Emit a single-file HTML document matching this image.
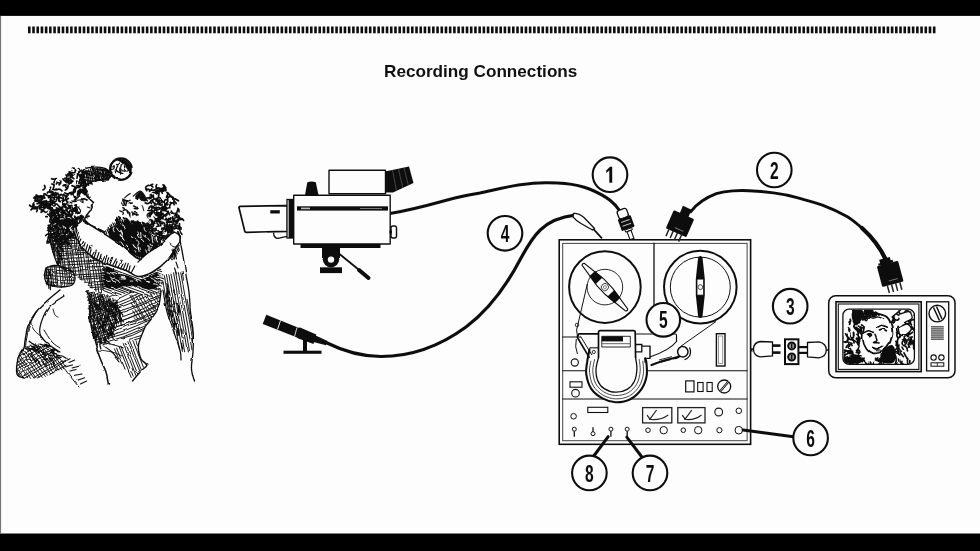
<!DOCTYPE html>
<html><head><meta charset="utf-8"><title>Recording Connections</title>
<style>
html,body{margin:0;padding:0;background:#000;overflow:hidden}
body{width:980px;height:551px;position:relative;font-family:"Liberation Sans",sans-serif}
svg{position:absolute;left:0;top:0;display:block}
.title{position:absolute;left:383.6px;top:61.2px;margin:0;padding:0;font:bold 16.4px/20px "Liberation Sans",sans-serif;color:#111;white-space:nowrap;transform-origin:0 0;transform:scaleX(1.046);filter:blur(0.35px)}
</style></head><body>
<svg width="980" height="551" viewBox="0 0 980 551">
<rect x="0" y="0" width="980" height="551" fill="#000"/>
<rect x="0" y="15.9" width="980" height="517.6" fill="#fdfdfd"/>
<rect x="0" y="15.9" width="1.1" height="517.6" fill="#777"/>
<defs><filter id="soft" x="-2%" y="-2%" width="104%" height="104%"><feGaussianBlur stdDeviation="0.4"/></filter><filter id="soft2" x="-5%" y="-5%" width="110%" height="110%"><feTurbulence type="fractalNoise" baseFrequency="0.09" numOctaves="2" seed="3" result="n"/><feDisplacementMap in="SourceGraphic" in2="n" scale="2.6" xChannelSelector="R" yChannelSelector="G" result="d"/><feGaussianBlur in="d" stdDeviation="0.35"/></filter></defs>
<g id="art" filter="url(#soft)">
<path d="M28.00 26.6h2.61v6.6h-2.61zM32.21 26.6h2.61v6.6h-2.61zM36.42 26.6h2.61v6.6h-2.61zM40.63 26.6h2.61v6.6h-2.61zM44.84 26.6h2.61v6.6h-2.61zM49.04 26.6h2.61v6.6h-2.61zM53.25 26.6h2.61v6.6h-2.61zM57.46 26.6h2.61v6.6h-2.61zM61.67 26.6h2.61v6.6h-2.61zM65.88 26.6h2.61v6.6h-2.61zM70.09 26.6h2.61v6.6h-2.61zM74.30 26.6h2.61v6.6h-2.61zM78.51 26.6h2.61v6.6h-2.61zM82.71 26.6h2.61v6.6h-2.61zM86.92 26.6h2.61v6.6h-2.61zM91.13 26.6h2.61v6.6h-2.61zM95.34 26.6h2.61v6.6h-2.61zM99.55 26.6h2.61v6.6h-2.61zM103.76 26.6h2.61v6.6h-2.61zM107.97 26.6h2.61v6.6h-2.61zM112.18 26.6h2.61v6.6h-2.61zM116.38 26.6h2.61v6.6h-2.61zM120.59 26.6h2.61v6.6h-2.61zM124.80 26.6h2.61v6.6h-2.61zM129.01 26.6h2.61v6.6h-2.61zM133.22 26.6h2.61v6.6h-2.61zM137.43 26.6h2.61v6.6h-2.61zM141.64 26.6h2.61v6.6h-2.61zM145.85 26.6h2.61v6.6h-2.61zM150.06 26.6h2.61v6.6h-2.61zM154.26 26.6h2.61v6.6h-2.61zM158.47 26.6h2.61v6.6h-2.61zM162.68 26.6h2.61v6.6h-2.61zM166.89 26.6h2.61v6.6h-2.61zM171.10 26.6h2.61v6.6h-2.61zM175.31 26.6h2.61v6.6h-2.61zM179.52 26.6h2.61v6.6h-2.61zM183.73 26.6h2.61v6.6h-2.61zM187.93 26.6h2.61v6.6h-2.61zM192.14 26.6h2.61v6.6h-2.61zM196.35 26.6h2.61v6.6h-2.61zM200.56 26.6h2.61v6.6h-2.61zM204.77 26.6h2.61v6.6h-2.61zM208.98 26.6h2.61v6.6h-2.61zM213.19 26.6h2.61v6.6h-2.61zM217.40 26.6h2.61v6.6h-2.61zM221.60 26.6h2.61v6.6h-2.61zM225.81 26.6h2.61v6.6h-2.61zM230.02 26.6h2.61v6.6h-2.61zM234.23 26.6h2.61v6.6h-2.61zM238.44 26.6h2.61v6.6h-2.61zM242.65 26.6h2.61v6.6h-2.61zM246.86 26.6h2.61v6.6h-2.61zM251.07 26.6h2.61v6.6h-2.61zM255.27 26.6h2.61v6.6h-2.61zM259.48 26.6h2.61v6.6h-2.61zM263.69 26.6h2.61v6.6h-2.61zM267.90 26.6h2.61v6.6h-2.61zM272.11 26.6h2.61v6.6h-2.61zM276.32 26.6h2.61v6.6h-2.61zM280.53 26.6h2.61v6.6h-2.61zM284.74 26.6h2.61v6.6h-2.61zM288.95 26.6h2.61v6.6h-2.61zM293.15 26.6h2.61v6.6h-2.61zM297.36 26.6h2.61v6.6h-2.61zM301.57 26.6h2.61v6.6h-2.61zM305.78 26.6h2.61v6.6h-2.61zM309.99 26.6h2.61v6.6h-2.61zM314.20 26.6h2.61v6.6h-2.61zM318.41 26.6h2.61v6.6h-2.61zM322.62 26.6h2.61v6.6h-2.61zM326.82 26.6h2.61v6.6h-2.61zM331.03 26.6h2.61v6.6h-2.61zM335.24 26.6h2.61v6.6h-2.61zM339.45 26.6h2.61v6.6h-2.61zM343.66 26.6h2.61v6.6h-2.61zM347.87 26.6h2.61v6.6h-2.61zM352.08 26.6h2.61v6.6h-2.61zM356.29 26.6h2.61v6.6h-2.61zM360.49 26.6h2.61v6.6h-2.61zM364.70 26.6h2.61v6.6h-2.61zM368.91 26.6h2.61v6.6h-2.61zM373.12 26.6h2.61v6.6h-2.61zM377.33 26.6h2.61v6.6h-2.61zM381.54 26.6h2.61v6.6h-2.61zM385.75 26.6h2.61v6.6h-2.61zM389.96 26.6h2.61v6.6h-2.61zM394.17 26.6h2.61v6.6h-2.61zM398.37 26.6h2.61v6.6h-2.61zM402.58 26.6h2.61v6.6h-2.61zM406.79 26.6h2.61v6.6h-2.61zM411.00 26.6h2.61v6.6h-2.61zM415.21 26.6h2.61v6.6h-2.61zM419.42 26.6h2.61v6.6h-2.61zM423.63 26.6h2.61v6.6h-2.61zM427.84 26.6h2.61v6.6h-2.61zM432.04 26.6h2.61v6.6h-2.61zM436.25 26.6h2.61v6.6h-2.61zM440.46 26.6h2.61v6.6h-2.61zM444.67 26.6h2.61v6.6h-2.61zM448.88 26.6h2.61v6.6h-2.61zM453.09 26.6h2.61v6.6h-2.61zM457.30 26.6h2.61v6.6h-2.61zM461.51 26.6h2.61v6.6h-2.61zM465.71 26.6h2.61v6.6h-2.61zM469.92 26.6h2.61v6.6h-2.61zM474.13 26.6h2.61v6.6h-2.61zM478.34 26.6h2.61v6.6h-2.61zM482.55 26.6h2.61v6.6h-2.61zM486.76 26.6h2.61v6.6h-2.61zM490.97 26.6h2.61v6.6h-2.61zM495.18 26.6h2.61v6.6h-2.61zM499.38 26.6h2.61v6.6h-2.61zM503.59 26.6h2.61v6.6h-2.61zM507.80 26.6h2.61v6.6h-2.61zM512.01 26.6h2.61v6.6h-2.61zM516.22 26.6h2.61v6.6h-2.61zM520.43 26.6h2.61v6.6h-2.61zM524.64 26.6h2.61v6.6h-2.61zM528.85 26.6h2.61v6.6h-2.61zM533.06 26.6h2.61v6.6h-2.61zM537.26 26.6h2.61v6.6h-2.61zM541.47 26.6h2.61v6.6h-2.61zM545.68 26.6h2.61v6.6h-2.61zM549.89 26.6h2.61v6.6h-2.61zM554.10 26.6h2.61v6.6h-2.61zM558.31 26.6h2.61v6.6h-2.61zM562.52 26.6h2.61v6.6h-2.61zM566.73 26.6h2.61v6.6h-2.61zM570.93 26.6h2.61v6.6h-2.61zM575.14 26.6h2.61v6.6h-2.61zM579.35 26.6h2.61v6.6h-2.61zM583.56 26.6h2.61v6.6h-2.61zM587.77 26.6h2.61v6.6h-2.61zM591.98 26.6h2.61v6.6h-2.61zM596.19 26.6h2.61v6.6h-2.61zM600.40 26.6h2.61v6.6h-2.61zM604.60 26.6h2.61v6.6h-2.61zM608.81 26.6h2.61v6.6h-2.61zM613.02 26.6h2.61v6.6h-2.61zM617.23 26.6h2.61v6.6h-2.61zM621.44 26.6h2.61v6.6h-2.61zM625.65 26.6h2.61v6.6h-2.61zM629.86 26.6h2.61v6.6h-2.61zM634.07 26.6h2.61v6.6h-2.61zM638.28 26.6h2.61v6.6h-2.61zM642.48 26.6h2.61v6.6h-2.61zM646.69 26.6h2.61v6.6h-2.61zM650.90 26.6h2.61v6.6h-2.61zM655.11 26.6h2.61v6.6h-2.61zM659.32 26.6h2.61v6.6h-2.61zM663.53 26.6h2.61v6.6h-2.61zM667.74 26.6h2.61v6.6h-2.61zM671.95 26.6h2.61v6.6h-2.61zM676.15 26.6h2.61v6.6h-2.61zM680.36 26.6h2.61v6.6h-2.61zM684.57 26.6h2.61v6.6h-2.61zM688.78 26.6h2.61v6.6h-2.61zM692.99 26.6h2.61v6.6h-2.61zM697.20 26.6h2.61v6.6h-2.61zM701.41 26.6h2.61v6.6h-2.61zM705.62 26.6h2.61v6.6h-2.61zM709.82 26.6h2.61v6.6h-2.61zM714.03 26.6h2.61v6.6h-2.61zM718.24 26.6h2.61v6.6h-2.61zM722.45 26.6h2.61v6.6h-2.61zM726.66 26.6h2.61v6.6h-2.61zM730.87 26.6h2.61v6.6h-2.61zM735.08 26.6h2.61v6.6h-2.61zM739.29 26.6h2.61v6.6h-2.61zM743.49 26.6h2.61v6.6h-2.61zM747.70 26.6h2.61v6.6h-2.61zM751.91 26.6h2.61v6.6h-2.61zM756.12 26.6h2.61v6.6h-2.61zM760.33 26.6h2.61v6.6h-2.61zM764.54 26.6h2.61v6.6h-2.61zM768.75 26.6h2.61v6.6h-2.61zM772.96 26.6h2.61v6.6h-2.61zM777.17 26.6h2.61v6.6h-2.61zM781.37 26.6h2.61v6.6h-2.61zM785.58 26.6h2.61v6.6h-2.61zM789.79 26.6h2.61v6.6h-2.61zM794.00 26.6h2.61v6.6h-2.61zM798.21 26.6h2.61v6.6h-2.61zM802.42 26.6h2.61v6.6h-2.61zM806.63 26.6h2.61v6.6h-2.61zM810.84 26.6h2.61v6.6h-2.61zM815.04 26.6h2.61v6.6h-2.61zM819.25 26.6h2.61v6.6h-2.61zM823.46 26.6h2.61v6.6h-2.61zM827.67 26.6h2.61v6.6h-2.61zM831.88 26.6h2.61v6.6h-2.61zM836.09 26.6h2.61v6.6h-2.61zM840.30 26.6h2.61v6.6h-2.61zM844.51 26.6h2.61v6.6h-2.61zM848.71 26.6h2.61v6.6h-2.61zM852.92 26.6h2.61v6.6h-2.61zM857.13 26.6h2.61v6.6h-2.61zM861.34 26.6h2.61v6.6h-2.61zM865.55 26.6h2.61v6.6h-2.61zM869.76 26.6h2.61v6.6h-2.61zM873.97 26.6h2.61v6.6h-2.61zM878.18 26.6h2.61v6.6h-2.61zM882.39 26.6h2.61v6.6h-2.61zM886.59 26.6h2.61v6.6h-2.61zM890.80 26.6h2.61v6.6h-2.61zM895.01 26.6h2.61v6.6h-2.61zM899.22 26.6h2.61v6.6h-2.61zM903.43 26.6h2.61v6.6h-2.61zM907.64 26.6h2.61v6.6h-2.61zM911.85 26.6h2.61v6.6h-2.61zM916.06 26.6h2.61v6.6h-2.61zM920.26 26.6h2.61v6.6h-2.61zM924.47 26.6h2.61v6.6h-2.61zM928.68 26.6h2.61v6.6h-2.61zM932.89 26.6h2.61v6.6h-2.61z" fill="#111"/>
<path d="M390 213.5 C420 208.5 440 201.5 457 197.5 C465 195.7 472 194.3 480 193 C494 190 507 186.7 520 184.8 C529 183.6 537 182.9 545 182.8 C552 182.7 559 182.9 565 183.5 C575 184.5 583 186.5 590 189.2 C598 192.5 604.5 196 610 200.2 C614 203.3 617 206.7 619.5 210.5" fill="none" stroke="#111" stroke-width="3.1" stroke-linecap="round"/>
<path d="M385 171.5 L409 166.5 L413.5 183 L393 192.5 L385 192.5z" fill="#111"/>
<path d="M392.5 170.3 L396.5 190.5 M398.5 169 L402.8 187.8 M404 168 L408.3 185.2" stroke="#555" stroke-width="0.7" fill="none"/>
<rect x="329" y="170.3" width="56.5" height="23.4" stroke="#111" stroke-width="1.4" fill="#fdfdfd" stroke-linejoin="round"/>
<path d="M305 195 L307.3 182.3 Q311.5 180.5 315.8 182.3 L318.5 195z" fill="#111"/>
<path d="M240.2 206.3 L287.5 205.7 L287.5 231.3 L246.3 232.3 Q245 232.3 244.7 231 L239 207.8 Q238.8 206.3 240.2 206.3z" stroke="#111" stroke-width="1.7" fill="#fdfdfd" stroke-linejoin="round"/>
<rect x="270.3" y="210.2" width="9.5" height="3.3" fill="#111"/>
<path d="M273.5 232.6 Q274 238.5 278 238.3 L287 236.3" fill="none" stroke="#111" stroke-width="1.3"/>
<rect x="287" y="199.5" width="6.8" height="38.5" fill="#fdfdfd" stroke="#111" stroke-width="1.3"/>
<rect x="288.6" y="199.5" width="5.2" height="38.5" fill="#111"/>
<rect x="293.7" y="195.2" width="96.5" height="48.8" stroke="#111" stroke-width="1.4" fill="#fdfdfd" stroke-linejoin="round"/>
<rect x="297" y="206.3" width="91" height="4.3" fill="#111"/>
<rect x="301" y="207.6" width="9" height="1.6" fill="#bbb"/>
<rect x="360" y="208" width="22" height="1" fill="#777"/>
<rect x="391" y="226" width="5.5" height="12" rx="2" stroke="#111" stroke-width="1.4" fill="#fdfdfd" stroke-linejoin="round"/>
<rect x="389.5" y="230.5" width="2.5" height="3" fill="#111"/>
<rect x="300.5" y="244" width="80" height="4" fill="#111"/>
<path d="M322 248 L340 248 L340 258 L322 258z" fill="#111"/>
<circle cx="331" cy="259.3" r="8.2" fill="#111"/>
<circle cx="331" cy="259.6" r="3.2" fill="#fdfdfd"/>
<rect x="320" y="267.3" width="22" height="5.8" fill="#111"/>
<path d="M337 252 L361 271.5" stroke="#111" stroke-width="1.8" fill="none"/>
<path d="M359 270 L368.5 278" stroke="#111" stroke-width="4" fill="none" stroke-linecap="round"/>
<path d="M326 342.5 C345 352 362 356.5 381 356.5 C410 356.5 440 346 466 327 C490 309 508 283 521 258 C533 236 543 219 575 215.2" fill="none" stroke="#111" stroke-width="3.2" stroke-linecap="round"/>
<path d="M266.3 314.8 L301 328.8 L327.5 341 L326 345.2 L299 338.3 L262.7 323.9z" fill="#111"/>
<path d="M299.5 327.3 L316.3 334.5 L313.5 344 L297 338z" fill="#111"/>
<path d="M280.5 320.5 L277.5 329.5" stroke="#fdfdfd" stroke-width="0.9"/>
<path d="M297 327.5 L294.5 336.5" stroke="#fdfdfd" stroke-width="0.8"/>
<rect x="303" y="338" width="4" height="13.5" fill="#111"/>
<rect x="283.5" y="350.7" width="38" height="3.1" fill="#111"/>
<path d="M573.5 213.3 Q579 213 584 217.5 L594.5 228.5 L592.5 230 L581 223.5 Q575.5 220 573 216.8z" fill="#fdfdfd" stroke="#111" stroke-width="1.3" stroke-linejoin="round"/>
<path d="M593.5 229.2 L602 238.3" stroke="#111" stroke-width="1.7"/>
<circle cx="610" cy="174.7" r="17.3" fill="#fdfdfd" stroke="#111" stroke-width="2.1"/>
<path d="M606.2 170.39999999999998 L610 166.7 L612.2 166.7 L612.2 182.7 L609.3 182.7 L609.3 170.5 L606.2 173.1z" fill="#111"/>
<circle cx="505" cy="233.3" r="17.3" fill="#fdfdfd" stroke="#111" stroke-width="2.1"/>
<text x="505" y="242.0" text-anchor="middle" font-family="Liberation Sans, sans-serif" font-weight="bold" font-size="24.3" fill="#111" transform="translate(505 0) scale(0.64 1) translate(-505 0)">4</text>
<g transform="translate(626.5 224) rotate(-20)">
<rect x="-5" y="-15.5" width="10" height="9" rx="2.5" fill="#fdfdfd" stroke="#111" stroke-width="1.3"/>
<rect x="-6.8" y="-7.2" width="13.6" height="12.4" rx="1" fill="#111"/>
<rect x="-4.5" y="-3.8" width="9" height="1.1" fill="#bbb"/>
<rect x="-4.5" y="0.3" width="9" height="1.1" fill="#bbb"/>
<rect x="-3.6" y="5.2" width="7.2" height="2.2" fill="#fdfdfd" stroke="#111" stroke-width="0.9"/>
<rect x="-2.1" y="7.4" width="4.2" height="8.6" fill="#fdfdfd" stroke="#111" stroke-width="1.1"/>
</g>
<rect x="559.2" y="239.8" width="191.39999999999998" height="204.5" fill="#fdfdfd" stroke="#111" stroke-width="1.6"/>
<rect x="562.7" y="243.4" width="184.39999999999998" height="197.3" stroke="#444" fill="none" stroke-width="1"/>
<path d="M654 242.8V318" stroke="#111" fill="none" stroke-width="1.3"/>
<path d="M562.2 337H588 M562.2 370.7H747.6 M562.2 399H747.6" stroke="#111" fill="none" stroke-width="1.1"/>
<circle cx="604.9" cy="287.1" r="35.8" fill="#fdfdfd" stroke="#111" stroke-width="2"/>
<circle cx="604.9" cy="287.1" r="17.8" stroke="#111" fill="none" stroke-width="0.9" stroke="#444"/>
<g transform="rotate(-43.5 604.9 287.1)">
<path d="M603.4 255.60000000000002 Q604.9 254.10000000000002 606.4 255.60000000000002 L609.6999999999999 281.1 L609.6999999999999 293.1 L606.4 318.6 Q604.9 320.1 603.4 318.6 L600.1 293.1 L600.1 281.1z" fill="#fdfdfd" stroke="#111" stroke-width="1.1"/>
<path d="M601.0 268.6 L608.8 268.6 L609.8 278.6 L600.0 278.6z" fill="#111"/>
<path d="M601.0 305.6 L608.8 305.6 L609.8 295.6 L600.0 295.6z" fill="#111"/>
<circle cx="604.9" cy="287.1" r="3.6" fill="#fdfdfd" stroke="#333" stroke-width="0.9"/>
<circle cx="604.9" cy="287.1" r="1.5" fill="none" stroke="#555" stroke-width="0.7"/>
</g>
<circle cx="700.3" cy="287.1" r="36.3" fill="#fdfdfd" stroke="#111" stroke-width="2"/>
<circle cx="700.3" cy="287.1" r="30" stroke="#111" fill="none" stroke-width="1" stroke="#333"/>
<path d="M698.0999999999999 257.6 Q700.3 254.60000000000002 702.5 257.6 L704.8 279.1 L704.8 295.1 L702.5 316.6 Q700.3 319.6 698.0999999999999 316.6 L695.8 295.1 L695.8 279.1z" fill="#111"/>
<rect x="697.0" y="279.1" width="6.6" height="16" fill="#fdfdfd" stroke="#111" stroke-width="0.8"/>
<circle cx="700.3" cy="287.1" r="2.4" fill="#fdfdfd" stroke="#333" stroke-width="0.9"/>
<path d="M587.3 284 L576.6 330 L577.5 337 M576.3 339 Q574.5 347 577.5 354" stroke="#111" fill="none" stroke-width="1"/>
<circle cx="577" cy="325" r="1.8" stroke="#111" fill="none" stroke-width="0.8"/>
<path d="M716 321.5 L680.5 346.5" stroke="#111" fill="none" stroke-width="1"/>
<path d="M635.5 334 H675.5 Q676.5 334 676.5 335.5 V341.5 Q670 350 650 357" stroke="#111" fill="none" stroke-width="1.2"/>
<path d="M589.5 349.4C589.1 351.6 587.6 358.4 587.1 362.5C586.5 366.6 585.6 369.6 586.2 373.9C586.9 378.3 588.4 384.5 591.1 388.6C593.9 392.7 598.5 396.2 602.6 398.4C606.7 400.7 611.0 402.0 615.6 402.2C620.3 402.3 626.0 401.5 630.3 399.2C634.7 397.0 639.1 392.6 641.8 388.6C644.5 384.7 645.9 379.9 646.7 375.5C647.4 371.2 646.6 365.3 646.4 362.5C646.1 359.6 645.3 359.1 645.1 358.4 L635.2 344.5 L635.2 331.4 L598.5 331.4 L598.5 333.9 L578.9 333.9z" fill="#fdfdfd"/>
<path d="M598.5 333.9 L578.9 333.9 L577.3 337.2 L589.5 357.9" fill="none" stroke="#111" stroke-width="1.7" stroke-linejoin="round"/>
<path d="M580.5 336.3 L592.0 355.1" fill="none" stroke="#111" stroke-width="1"/>
<path d="M598.5 347.8 L589.5 347.8" fill="none" stroke="#111" stroke-width="1.1"/>
<path d="M635.2 344.5 L641.8 344.5 L641.8 351.9 L635.2 351.9" fill="#fdfdfd" stroke="#111" stroke-width="1.3"/>
<path d="M641.8 346.1 L650.0 346.1 L650.0 358.4 L645.1 358.4 L645.1 362.8" fill="none" stroke="#111" stroke-width="1.4"/>
<path d="M589.5 349.4C589.1 351.6 587.6 358.4 587.1 362.5C586.5 366.6 585.6 369.6 586.2 373.9C586.9 378.3 588.4 384.5 591.1 388.6C593.9 392.7 598.5 396.2 602.6 398.4C606.7 400.7 611.0 402.0 615.6 402.2C620.3 402.3 626.0 401.5 630.3 399.2C634.7 397.0 639.1 392.6 641.8 388.6C644.5 384.7 645.9 379.9 646.7 375.5C647.4 371.2 646.6 365.3 646.4 362.5C646.1 359.6 645.3 359.1 645.1 358.4" fill="none" stroke="#111" stroke-width="2.1" stroke-linecap="round"/>
<path d="M590.9 360.8C590.6 362.7 589.1 368.1 589.5 372.3C589.9 376.5 591.0 382.1 593.3 385.9C595.6 389.7 599.4 393.0 603.1 395.2C606.8 397.3 611.3 398.7 615.6 398.9C620.0 399.0 625.3 398.1 629.3 396.0C633.2 393.9 637.0 389.9 639.3 386.2C641.7 382.4 642.8 377.6 643.4 373.4C644.0 369.1 642.9 362.9 642.8 360.8" fill="none" stroke="#333" stroke-width="0.9"/>
<path d="M594.7 359.2C594.4 361.1 592.6 366.7 592.8 370.6C592.9 374.6 593.7 379.6 595.5 383.2C597.3 386.7 600.3 389.8 603.7 391.9C607.0 393.9 611.6 395.4 615.6 395.5C619.7 395.7 624.6 394.7 628.2 392.7C631.7 390.7 634.9 387.3 636.9 383.7C638.9 380.1 639.8 375.3 640.2 371.2C640.5 367.1 639.3 361.2 639.2 359.2" fill="none" stroke="#333" stroke-width="0.9"/>
<path d="M598.5 357.6C598.1 359.5 596.2 365.2 596.0 369.0C595.9 372.8 596.3 377.2 597.7 380.4C599.0 383.7 601.2 386.7 604.2 388.6C607.2 390.6 611.8 392.1 615.6 392.2C619.5 392.3 624.0 391.3 627.1 389.4C630.2 387.6 632.8 384.7 634.4 381.3C636.1 377.9 636.7 373.0 636.9 369.0C637.1 365.1 635.8 359.5 635.6 357.6" fill="none" stroke="#111" stroke-width="1.3"/>
<path d="M598.5 357.9 L598.5 332.3 Q598.5 330.6 600.1 330.6 L633.6 330.6 Q635.2 330.6 635.2 332.3 L635.6 357.9" fill="none" stroke="#111" stroke-width="1.7"/>
<path d="M601.8 336.3 L630.3 336.3 L630.3 347.0 L601.8 347.0z" fill="#fdfdfd" stroke="#111" stroke-width="0.9"/>
<path d="M601.8 336.3 L623.0 336.3 L623.0 341.4 L601.8 341.4z" fill="#111"/>
<path d="M601.8 343.7 L630.3 343.7" stroke="#666" stroke-width="1"/>
<circle cx="593.8" cy="352.0" r="1.6" fill="#fdfdfd" stroke="#111" stroke-width="0.9"/>
<path d="M651.5 365 Q662 360.5 672 358.5 Q677 358 679 356.5" fill="none" stroke="#111" stroke-width="2.2" stroke-linecap="round"/>
<path d="M659 360 L672 356.6 M660.5 362.5 L671 359.5" stroke="#111" stroke-width="0.9" fill="none"/>
<circle cx="682.8" cy="351.8" r="5.2" fill="#fdfdfd" stroke="#111" stroke-width="1.5"/>
<path d="M689.5 347.5 Q691.5 352 689.5 356 Q687.5 359 684.5 359.6" fill="none" stroke="#111" stroke-width="1.3"/>
<rect x="716.4" y="333.7" width="8.6" height="32.3" fill="#fdfdfd" stroke="#111" stroke-width="1.4"/>
<rect x="718.6" y="336" width="4.2" height="27.5" fill="none" stroke="#555" stroke-width="0.6"/>
<rect x="685.7" y="380.9" width="8.3" height="11" fill="#fdfdfd" stroke="#111" stroke-width="1.2"/>
<rect x="697.7" y="382.5" width="5.4" height="9" fill="#fdfdfd" stroke="#111" stroke-width="1.1"/>
<rect x="707" y="382.5" width="5.2" height="9" fill="#fdfdfd" stroke="#111" stroke-width="1.1"/>
<circle cx="724.2" cy="386.5" r="6.5" fill="#fdfdfd" stroke="#111" stroke-width="1.3"/>
<path d="M720 391.5 L728.5 381.5" stroke="#111" stroke-width="2.2"/>
<path d="M720 391.5 L728.5 381.5" stroke="#fdfdfd" stroke-width="0.7"/>
<circle cx="574.8" cy="362.5" r="3.6" fill="none" stroke="#111" stroke-width="1.1"/>
<rect x="570" y="381.8" width="12" height="5.4" fill="none" stroke="#111" stroke-width="1.1"/>
<circle cx="575.5" cy="393.2" r="3.8" fill="none" stroke="#111" stroke-width="1.1"/>
<rect x="587.8" y="407.3" width="20" height="5.2" fill="none" stroke="#111" stroke-width="1.1"/>
<circle cx="573.6" cy="416.3" r="2.8" fill="none" stroke="#111" stroke-width="1"/>
<rect x="642.6" y="407.6" width="29.2" height="15.3" fill="none" stroke="#222" stroke-width="1.3"/>
<path d="M649.1 419.3 Q660.2 420.8 668.3000000000001 415" fill="none" stroke="#222" stroke-width="1.1"/>
<path d="M647.1 415.2 L649.9 419.2 L656.6 410" fill="none" stroke="#222" stroke-width="1.2" stroke-linejoin="round"/>
<rect x="677.8" y="407.6" width="27.2" height="15.3" fill="none" stroke="#222" stroke-width="1.3"/>
<path d="M684.3 419.3 Q694.4 420.8 701.5 415" fill="none" stroke="#222" stroke-width="1.1"/>
<path d="M682.3 415.2 L685.0999999999999 419.2 L691.8 410" fill="none" stroke="#222" stroke-width="1.2" stroke-linejoin="round"/>
<circle cx="718.7" cy="412" r="3.9" fill="none" stroke="#111" stroke-width="1.1"/>
<circle cx="738.8" cy="410.8" r="2.8" fill="none" stroke="#111" stroke-width="1"/>
<circle cx="574.3" cy="429.2" r="2" fill="#fdfdfd" stroke="#111" stroke-width="1"/>
<path d="M574.3 431.2V436.7" stroke="#111" stroke-width="1.3"/>
<circle cx="593" cy="433.7" r="2" fill="#fdfdfd" stroke="#111" stroke-width="1"/>
<path d="M593 427.2V431.7" stroke="#111" stroke-width="1.3"/>
<circle cx="610.9" cy="429.2" r="2" fill="#fdfdfd" stroke="#111" stroke-width="1"/>
<path d="M610.9 431.2V436.7" stroke="#111" stroke-width="1.3"/>
<circle cx="627.2" cy="429.2" r="2" fill="#fdfdfd" stroke="#111" stroke-width="1"/>
<path d="M627.2 431.2V436.7" stroke="#111" stroke-width="1.3"/>
<circle cx="648" cy="430.2" r="2.3" fill="none" stroke="#111" stroke-width="1"/>
<circle cx="663.7" cy="430.2" r="3.7" fill="none" stroke="#111" stroke-width="1"/>
<circle cx="683.3" cy="430.2" r="2.3" fill="none" stroke="#111" stroke-width="1"/>
<circle cx="698.2" cy="430.2" r="3.7" fill="none" stroke="#111" stroke-width="1"/>
<circle cx="719.4" cy="430.2" r="2.6" fill="none" stroke="#111" stroke-width="1"/>
<circle cx="738.8" cy="430.2" r="3.8" fill="none" stroke="#111" stroke-width="1"/>
<path d="M743 430 L793.5 436.7" stroke="#111" stroke-width="2.9" stroke-linecap="round"/>
<path d="M608.2 436.6 L593.4 456.5" stroke="#111" stroke-width="3" stroke-linecap="round"/>
<path d="M626.8 437.2 L641.5 456.5" stroke="#111" stroke-width="3" stroke-linecap="round"/>
<path d="M750 350.5 L752.5 349 L752.5 352z" fill="#111"/>
<circle cx="663.3" cy="319.8" r="16.8" fill="#fdfdfd" stroke="#111" stroke-width="2.1"/>
<text x="663.3" y="328.5" text-anchor="middle" font-family="Liberation Sans, sans-serif" font-weight="bold" font-size="24.3" fill="#111" transform="translate(663.3 0) scale(0.64 1) translate(-663.3 0)">5</text>
<circle cx="810.6" cy="438" r="17.3" fill="#fdfdfd" stroke="#111" stroke-width="2.1"/>
<text x="810.6" y="446.7" text-anchor="middle" font-family="Liberation Sans, sans-serif" font-weight="bold" font-size="24.3" fill="#111" transform="translate(810.6 0) scale(0.64 1) translate(-810.6 0)">6</text>
<circle cx="589.4" cy="472.9" r="17.3" fill="#fdfdfd" stroke="#111" stroke-width="2.1"/>
<text x="589.4" y="481.59999999999997" text-anchor="middle" font-family="Liberation Sans, sans-serif" font-weight="bold" font-size="24.3" fill="#111" transform="translate(589.4 0) scale(0.64 1) translate(-589.4 0)">8</text>
<circle cx="650" cy="472.9" r="17.3" fill="#fdfdfd" stroke="#111" stroke-width="2.1"/>
<text x="650" y="481.59999999999997" text-anchor="middle" font-family="Liberation Sans, sans-serif" font-weight="bold" font-size="24.3" fill="#111" transform="translate(650 0) scale(0.64 1) translate(-650 0)">7</text>
<path d="M690.6 211.8 C697 203.5 705 198 716.3 193.7 C722 192 727 191.3 732.7 190.9 C738 190.5 744 190.5 749 190.7 C757 191 765 191.7 773.5 192.9 C782 194 790 195.6 798 197.8 C806 200 814 202.3 822.4 205.1 C831 208.3 839 212 847 216.5 C852 219.5 856 223 860 226.3 C870 235 879 246 885.5 259" fill="none" stroke="#111" stroke-width="2.9" stroke-linecap="round"/>
<path d="M862 228 C872 237 880 247 886 260" fill="none" stroke="#111" stroke-width="4.2" stroke-linecap="round"/>
<g transform="translate(680 223.7) rotate(23.8)">
<rect x="-4.5" y="-17.5" width="9.5" height="8.5" fill="#111"/>
<rect x="-11.2" y="-9.9" width="22.4" height="19.8" rx="1.2" fill="#111"/>
<rect x="-8.6" y="9.5" width="1.5" height="7.5" fill="#222"/>
<rect x="-4.0" y="9.5" width="1.5" height="7.5" fill="#222"/>
<rect x="0.5999999999999996" y="9.5" width="1.5" height="7.5" fill="#222"/>
<rect x="5.199999999999999" y="9.5" width="1.5" height="7.5" fill="#222"/>
<rect x="-3" y="5.2" width="9" height="0.9" fill="#888"/>
</g>
<g transform="translate(890.2 273.9) rotate(-15)">
<rect x="-7" y="-16.5" width="11" height="7" fill="#111"/>
<rect x="-9" y="-13" width="15" height="2.2" fill="#111"/>
<rect x="-11" y="-10.7" width="22" height="21.4" rx="1.2" fill="#111"/>
<rect x="-6.5" y="10.3" width="1.5" height="8" fill="#222"/>
<rect x="-2.2" y="10.3" width="1.5" height="8" fill="#222"/>
<rect x="2.0999999999999996" y="10.3" width="1.5" height="8" fill="#222"/>
<rect x="6.399999999999999" y="10.3" width="1.5" height="8" fill="#222"/>
<rect x="-3" y="6" width="9" height="0.9" fill="#888"/>
</g>
<circle cx="774.3" cy="170" r="17.3" fill="#fdfdfd" stroke="#111" stroke-width="2.1"/>
<text x="774.3" y="178.7" text-anchor="middle" font-family="Liberation Sans, sans-serif" font-weight="bold" font-size="24.3" fill="#111" transform="translate(774.3 0) scale(0.64 1) translate(-774.3 0)">2</text>
<circle cx="790.2" cy="306.2" r="17.3" fill="#fdfdfd" stroke="#111" stroke-width="2.1"/>
<text x="790.2" y="314.9" text-anchor="middle" font-family="Liberation Sans, sans-serif" font-weight="bold" font-size="24.3" fill="#111" transform="translate(790.2 0) scale(0.64 1) translate(-790.2 0)">3</text>
<path d="M772.5 342 L760 341.5 Q753.5 343 753.5 349 Q753.5 355.5 760 356.8 L772.5 356z" fill="#fdfdfd" stroke="#111" stroke-width="1.3"/>
<path d="M750.5 349 L753.5 349" stroke="#111" stroke-width="1.5"/>
<rect x="772.5" y="344.3" width="8" height="2.6" fill="#111"/><rect x="772.5" y="351.3" width="8" height="2.6" fill="#111"/>
<rect x="785" y="339.3" width="13.4" height="24.8" fill="#fdfdfd" stroke="#111" stroke-width="2"/>
<circle cx="791.7" cy="345.9" r="3.5" fill="#999" stroke="#111" stroke-width="2"/>
<circle cx="791.7" cy="357" r="3.5" fill="#999" stroke="#111" stroke-width="2"/>
<path d="M791.7 343.5v4.6M791.7 354.7v4.6" stroke="#111" stroke-width="1.4"/>
<rect x="799" y="346" width="8" height="2.2" fill="#111"/><rect x="799" y="351.8" width="8" height="2.2" fill="#111"/>
<path d="M807.5 342.5 L819 341.8 Q826.3 343.5 826.3 349.8 Q826.3 356.5 819 357.8 L807.5 357z" fill="#fdfdfd" stroke="#111" stroke-width="1.3"/>
<path d="M826.3 350 L829 350" stroke="#111" stroke-width="1.5"/>
<rect x="828.7" y="295.7" width="126.3" height="82.1" rx="7" fill="#fdfdfd" stroke="#111" stroke-width="1.5"/>
<rect x="836" y="301.8" width="85.2" height="69.8" fill="#fdfdfd" stroke="#111" stroke-width="1.6"/>
<rect x="838.3" y="304" width="80.6" height="65.4" fill="none" stroke="#111" stroke-width="1.1"/>
<rect x="842.9" y="309.2" width="71.5" height="55.1" rx="6" fill="#fdfdfd" stroke="#111" stroke-width="1.3"/>
<rect x="926.6" y="301.8" width="22.1" height="69.1" fill="#fdfdfd" stroke="#111" stroke-width="1.3"/>
<circle cx="937.3" cy="313.6" r="8.3" fill="#fdfdfd" stroke="#111" stroke-width="1.4"/>
<path d="M933.5 307.5 L939.5 320.5 M936.5 306.5 L942 319" stroke="#111" stroke-width="1.5"/>
<rect x="931" y="326.30" width="12.8" height="1.1" fill="#222"/>
<rect x="931" y="328.35" width="12.8" height="1.1" fill="#222"/>
<rect x="931" y="330.40" width="12.8" height="1.1" fill="#222"/>
<rect x="931" y="332.45" width="12.8" height="1.1" fill="#222"/>
<rect x="931" y="334.50" width="12.8" height="1.1" fill="#222"/>
<rect x="931" y="336.55" width="12.8" height="1.1" fill="#222"/>
<rect x="931" y="338.60" width="12.8" height="1.1" fill="#222"/>
<circle cx="933.6" cy="357.6" r="2.7" fill="none" stroke="#111" stroke-width="1.1"/>
<circle cx="941.4" cy="357.6" r="2.7" fill="none" stroke="#111" stroke-width="1.1"/>
<rect x="931" y="362.8" width="12.8" height="3.4" fill="none" stroke="#111" stroke-width="1"/>
<path d="M937.3 362.8v3.4" stroke="#111" stroke-width="0.8"/>
<g filter="url(#soft2)">
<circle cx="120.9" cy="169.2" r="10.8" fill="#fdfdfd" stroke="#0b0b0b" stroke-width="2.2"/>
<path d="M115.9 159.89999999999998 A10.8 10.8 0 0 1 130.9 171.2 Q128.9 171.2 126.9 167.2 Q123.9 162.7 115.9 159.89999999999998z" fill="#0b0b0b"/>
<path d="M111.10000000000001 172.2 A10.8 10.8 0 0 0 125.9 178.6 A14.040000000000001 14.040000000000001 0 0 1 111.10000000000001 172.2z" fill="#0b0b0b"/>
<path d="M120.1 169.6q0.2 2.3 0.5 4.5M122.3 164.0q-2.0 0.9 -1.3 3.0M114.4 165.8q-1.1 0.0 -1.6 1.1M128.3 171.0q2.9 -1.6 3.1 1.7M121.4 162.1q1.9 -0.4 1.6 1.5M120.3 167.8q-1.1 2.1 -0.3 4.3M120.9 171.1q-0.9 2.7 2.0 2.3M124.2 165.9q2.0 -0.1 1.4 1.8M125.2 167.2q-2.2 3.1 1.5 4.0M119.3 162.3q-0.5 2.2 -2.8 2.3M114.3 166.2q0.3 3.7 -3.4 3.2M115.7 169.6q0.6 1.8 2.5 1.7M115.0 170.9q1.1 0.7 0.5 1.9" fill="none" stroke="#0b0b0b" stroke-width="1.2" stroke-linecap="round"/>
<path d="M117.9 165.7C117.7 166.2 116.5 167.7 116.4 168.7C116.3 169.7 116.8 171.0 117.4 171.7C118.0 172.4 119.5 172.5 119.9 172.7" fill="none" stroke="#0b0b0b" stroke-width="1.2" stroke-linecap="round" stroke-linejoin="round"/>
<path d="M119.9 168.2C120.3 168.6 121.6 170.2 122.4 170.7C123.2 171.2 124.5 171.1 124.9 171.2" fill="none" stroke="#0b0b0b" stroke-width="1.2" stroke-linecap="round" stroke-linejoin="round"/>
<path d="M108.4 171.0Q109.1 174.4 110.0 177.7M106.3 170.1Q107.1 174.0 108.1 177.9M104.6 169.2Q105.6 173.9 106.7 178.7M102.8 168.9Q104.0 174.5 105.0 180.3M101.5 169.0Q102.7 174.6 103.8 180.2M99.4 168.7Q100.7 174.5 102.2 180.4M97.6 167.9Q98.9 174.1 100.2 180.4M96.7 168.5Q97.9 174.1 98.9 179.8M95.0 168.8Q95.3 170.3 95.8 171.8M96.0 173.7Q96.7 176.9 97.3 180.1M93.6 168.8Q94.9 175.1 96.2 181.3M92.2 167.9Q93.7 174.6 95.4 181.4M90.5 169.0Q91.8 175.1 93.0 181.2M88.6 169.8Q89.9 176.0 91.3 182.2M86.9 170.6Q88.3 176.9 89.6 183.2M85.6 170.8Q87.0 177.6 88.2 184.5M83.5 171.4Q85.1 178.8 86.5 186.2M82.2 171.5Q83.9 179.3 85.4 187.2M81.2 173.8Q81.6 175.7 82.2 177.6M82.5 180.0Q83.3 184.0 84.1 188.0M79.8 175.4Q80.9 180.7 81.8 186.0" fill="none" stroke="#0b0b0b" stroke-width="1.3" stroke-linecap="round"/>
<path d="M91.7 168.4Q100.3 169.9 108.9 171.5M85.5 170.9Q98.0 173.1 110.4 175.2M81.4 172.5Q95.6 175.0 109.7 177.7M79.0 176.0Q90.1 177.9 101.2 180.0M79.8 179.2Q82.4 179.6 85.1 179.9M86.1 180.3Q89.1 180.8 92.2 181.1M80.3 182.6Q84.6 183.3 88.9 184.2M81.3 185.4Q83.5 185.8 85.7 186.0" fill="none" stroke="#0b0b0b" stroke-width="1.1" stroke-linecap="round"/>
<path d="M88.8 182.0q1.1 2.1 3.5 2.0M81.6 176.9q1.8 1.5 2.6 3.7M84.1 182.5q1.5 2.6 4.5 2.8M84.4 186.2q1.2 2.7 2.9 5.2M103.7 174.1q2.6 1.5 3.6 4.4M80.0 176.6q1.6 1.4 3.1 2.9M83.0 174.4q2.1 -2.6 5.1 -1.0M108.9 177.7q2.3 -2.6 5.6 -1.6M94.9 173.5q2.0 1.4 4.2 2.6M105.5 179.1q1.4 1.6 3.2 0.6M107.4 171.8q1.2 2.4 2.7 4.7M96.4 171.6q1.8 1.2 3.9 1.4M94.5 175.8q2.4 1.1 4.7 2.2M100.4 168.8q1.5 2.7 4.1 0.9M108.1 173.0q1.8 -0.7 3.8 -0.8M93.2 174.0q0.5 1.9 2.4 1.4M81.6 183.7q1.0 -0.8 2.1 -0.2M100.2 174.2q2.3 -0.5 3.0 1.7M101.7 170.0q2.0 -1.5 4.0 -0.1M95.0 176.5q1.7 0.5 3.4 0.8M82.6 171.7q1.8 1.3 3.8 2.4M105.9 172.3q-0.0 3.5 3.4 3.6M87.8 174.0q3.1 3.2 5.7 -0.4M106.9 170.2q1.7 0.3 2.3 1.9M80.5 184.8q2.5 0.1 2.6 2.6M77.8 171.6q-0.8 3.5 2.7 3.9M81.1 178.0q2.0 1.9 4.7 1.7M83.6 168.9q1.2 -0.3 2.3 -0.8" fill="none" stroke="#0b0b0b" stroke-width="1.5" stroke-linecap="round"/>
<path d="M77.3 173.5C78.4 172.7 81.3 169.9 84.2 168.8C87.1 167.7 91.5 167.2 94.7 167.1C97.9 166.9 101.0 167.2 103.4 167.8C105.8 168.3 108.0 170.1 109.0 170.6" fill="none" stroke="#0b0b0b" stroke-width="1.3" stroke-linecap="round" stroke-linejoin="round"/>
<path d="M84.2 188.7C84.8 187.9 86.0 185.3 87.7 184.0C89.4 182.6 92.1 181.3 94.7 180.7C97.3 180.0 100.9 180.4 103.4 180.0C105.9 179.5 108.5 178.2 109.5 177.9" fill="none" stroke="#0b0b0b" stroke-width="1.4" stroke-linecap="round" stroke-linejoin="round"/>
<path d="M61.7 211.0q1.8 -0.5 2.1 1.3M58.7 226.0q0.1 1.6 0.3 3.1M56.8 213.5q-1.7 -0.0 -1.2 1.6M42.5 202.2q3.4 1.4 1.4 4.5M41.5 206.7q-1.3 -0.8 -1.8 0.6M68.4 198.4q-4.1 2.0 -0.1 4.2M78.5 187.2q-4.0 -0.1 -3.7 3.9M79.1 198.5q-3.2 -0.9 -4.9 2.0M76.3 226.1q1.2 3.2 -2.2 2.6M51.7 203.4q-0.1 1.1 0.9 1.7M68.1 185.2q0.2 3.3 -2.7 4.8M70.1 211.1q-3.0 3.2 1.3 3.7M69.1 221.2q-2.1 4.7 -4.8 0.3M67.6 224.0q2.9 0.6 0.9 2.7M43.3 196.2q-0.5 2.1 1.6 1.6M63.8 206.3q-6.0 1.6 -1.2 5.4M68.9 229.5q-1.4 0.7 -0.7 2.1M41.2 203.6q-0.5 1.3 0.0 2.5M56.3 207.8q2.5 1.2 1.7 3.8M69.9 210.4q0.0 1.9 -1.9 2.3M75.6 197.3q1.5 5.2 -3.7 3.8M56.8 204.0q1.8 2.1 4.0 3.9M59.1 242.4q2.8 3.6 -1.6 4.7M68.1 202.3q1.3 0.4 2.6 0.4M39.2 201.4q2.4 1.9 0.6 4.4M65.6 199.6q-5.0 2.0 -0.5 4.8M68.1 194.9q-1.1 1.0 -1.6 2.5M66.2 215.9q3.3 -0.6 3.9 2.7M82.8 170.4q0.9 0.6 1.4 1.6M68.0 175.3q2.7 -2.7 3.9 0.9M71.1 209.6q1.0 1.9 1.7 4.0M44.1 193.8q-0.1 4.7 -4.1 2.3M68.0 226.3q1.6 1.0 0.6 2.6M78.8 195.7q-2.1 1.6 -4.4 0.1M63.7 224.6q2.0 2.3 1.2 5.3M64.6 204.6q-0.7 3.3 2.7 3.6M70.3 173.7q-1.9 0.4 -2.0 2.3M52.7 223.1q1.0 1.9 3.1 1.2M64.9 237.8q-2.5 1.4 -5.3 1.5M78.4 190.8q-2.1 2.3 1.0 3.0M83.7 186.4q1.5 1.1 1.3 3.0M54.8 197.1q-1.8 1.0 -0.5 2.6M63.2 231.5q0.6 2.8 3.4 2.1M82.9 189.0q-0.2 1.0 -0.1 2.0M64.8 241.5q0.4 4.4 -3.6 2.5M63.6 227.8q0.8 1.3 2.1 0.6M68.6 178.4q1.1 3.2 -2.1 4.2M62.1 226.0q-1.9 3.0 1.7 3.0M70.9 205.3q-2.5 0.5 -2.5 3.0M84.9 198.9q-4.3 0.4 -2.5 4.4M69.0 207.6q-1.4 1.9 -3.7 2.7M56.3 178.6q-2.3 1.2 -4.7 0.1M56.5 189.8q3.1 -1.6 5.5 1.0M76.8 181.2q-0.2 1.1 0.3 2.1M44.5 185.5q1.8 3.0 -1.4 4.4M50.0 209.4q2.6 2.3 0.3 5.0M51.7 209.4q3.2 2.6 0.3 5.5M78.3 196.9q1.7 2.0 -0.2 3.9M59.3 195.9q-2.3 1.3 -3.1 3.9M50.6 187.3q-1.6 2.5 -0.3 5.2M62.9 179.0q2.4 3.1 4.8 0.0M73.4 174.9q-3.2 2.2 0.4 3.7M65.9 233.1q-0.9 1.3 -2.4 1.9M79.8 183.4q2.5 2.2 -0.3 4.0M80.1 191.3q1.8 -0.8 3.0 0.7M59.0 222.2q1.2 2.8 -1.8 2.7M54.8 202.8q-3.3 -0.1 -4.8 2.8M73.0 185.6q4.2 1.5 0.5 4.0M48.8 196.2q2.2 0.8 2.3 3.2M54.6 218.5q0.4 1.9 2.3 1.7M51.0 239.8q-0.3 2.4 -2.6 3.1M79.8 174.5q0.9 1.2 2.3 0.7M72.9 181.2q-1.8 0.3 -3.0 1.7M85.2 200.1q-2.7 0.8 -1.7 3.4M79.5 197.0q3.4 0.7 0.9 3.0M55.1 221.1q-3.3 0.3 -4.4 3.5M51.1 193.6q2.4 -0.3 4.1 1.4M61.4 227.9q2.4 3.5 -1.7 4.7M63.7 194.4q1.0 2.3 3.4 1.6M68.2 182.6q0.6 1.0 1.6 1.5M72.3 192.6q1.5 2.3 2.3 4.9M63.4 210.4q-1.1 3.7 2.7 3.0M66.8 176.8q-1.6 4.4 3.1 4.0M80.0 181.6q2.8 -3.1 3.9 0.9M49.8 218.9q0.0 2.5 1.7 4.4M78.5 168.7q2.0 1.1 0.3 2.6M54.3 211.1q1.1 1.4 -0.2 2.6M64.8 192.9q2.0 1.7 4.3 0.5M66.7 203.4q-1.9 1.1 -1.3 3.2M75.8 225.0q-1.9 -2.5 -3.7 0.1M81.4 198.8q-3.2 1.1 -0.7 3.5M62.4 207.7q-1.3 1.7 -3.4 1.0M66.5 225.0q2.1 2.2 -0.9 2.9M39.2 201.7q3.8 0.7 1.2 3.6M72.2 207.7q1.3 0.8 1.6 2.3M70.5 233.8q-0.3 2.6 -2.9 2.0M75.1 210.9q1.6 3.8 5.1 1.6M39.1 208.6q2.8 -2.8 5.5 0.0M49.3 192.3q-1.4 -0.9 -2.0 0.7M54.9 194.7q2.6 -3.5 4.1 0.6M83.9 191.0q-2.6 -3.2 -3.7 0.8M59.3 183.2q-2.0 -2.0 -2.9 0.7M52.4 203.6q-2.1 -1.9 -2.4 0.9M73.9 191.4q-3.3 -1.0 -4.9 2.1M49.7 221.9q1.9 -0.5 2.2 1.4M70.4 228.0q-3.0 0.2 -1.6 2.9M66.1 185.0q-1.7 -0.6 -3.0 0.7M48.0 216.5q-1.1 0.3 -2.2 0.1M62.5 208.1q0.5 1.3 -0.6 2.0M75.7 186.3q1.6 1.7 -0.4 2.9M33.9 202.8q-3.0 3.7 1.7 4.4M60.9 181.2q0.1 2.3 -1.8 3.6M70.0 227.4q-2.7 1.9 -0.1 3.9M71.5 207.3q0.8 4.1 4.7 2.9M45.6 201.2q-3.6 -0.7 -3.8 3.0M45.6 204.9q-0.3 1.3 -0.7 2.7M73.3 211.3q4.1 -1.7 4.4 2.8M33.0 205.4q2.0 1.4 0.6 3.5M78.1 173.0q-1.0 2.5 -1.1 5.2M77.7 185.7q2.6 -0.2 1.4 2.0M50.1 215.0q0.8 1.9 2.6 2.9M35.5 198.9q-0.7 3.4 2.6 2.1M34.4 204.9q-2.2 3.5 -4.8 0.2M58.3 224.5q-0.4 1.9 1.5 1.4M40.2 197.5q2.9 0.9 0.7 2.9M76.1 223.7q0.8 1.2 1.9 2.0M45.9 202.8q2.7 1.7 2.3 5.0M34.3 198.3q2.4 -0.9 4.3 0.8M66.1 235.4q-1.8 2.6 1.2 3.5M54.0 227.3q2.2 0.4 1.3 2.4M63.7 180.0q1.2 0.7 2.1 1.7M49.8 201.7q-5.0 0.2 -3.0 4.8M43.8 196.8q-0.1 1.2 -1.2 1.8M54.7 238.2q2.5 0.9 3.1 3.5M52.8 226.1q-0.9 4.9 -4.5 1.3M50.6 196.9q-0.8 1.1 -2.1 0.8M76.5 207.2q1.4 0.6 0.7 2.0M50.0 199.9q1.1 2.3 3.6 1.6M70.5 178.7q-0.0 1.8 1.7 2.1M55.4 197.0q3.4 0.1 3.9 3.4M51.9 184.0q1.0 0.6 2.0 0.2M64.7 229.4q0.1 3.4 3.3 4.5M71.8 218.5q-1.4 3.8 -5.1 2.2M68.5 174.3q3.5 0.6 1.2 3.3M54.1 192.6q3.2 -0.2 2.4 2.9M55.2 203.8q0.5 1.8 -1.3 2.2M56.4 179.0q-1.6 1.4 -2.4 3.3M72.5 169.2q3.4 0.3 1.4 3.1M60.6 212.3q2.5 0.6 1.9 3.1M83.5 210.8q0.8 2.2 -1.5 2.5M59.1 214.6q0.4 2.9 2.3 5.0M68.2 215.0q1.9 1.3 0.9 3.3M54.1 237.1q0.9 0.4 1.9 0.8M49.8 195.0q4.1 -1.8 5.0 2.5M63.4 197.6q-0.8 1.4 0.1 2.8M63.7 215.3q-3.7 -2.2 -3.5 2.0M51.3 194.0q-0.4 3.5 2.9 4.4M72.2 220.0q-0.4 4.7 -4.7 2.9M67.9 205.0q2.4 1.2 1.6 3.7M75.3 208.3q1.7 0.3 2.0 2.0M42.2 206.8q1.6 -1.8 2.3 0.5M38.5 202.0q3.4 2.2 0.3 4.8M61.3 228.5q0.2 2.4 -2.1 2.6M73.4 192.5q-2.6 -0.5 -2.3 2.2M79.9 210.9q-1.7 0.9 -2.1 2.8M39.2 196.3q3.5 -0.6 3.3 2.9M56.2 215.8q-2.4 -2.9 -3.3 0.7M63.3 204.4q-0.7 2.5 1.9 2.7M80.5 189.2q-2.3 0.9 -1.2 3.2M72.1 209.3q3.6 -1.8 4.4 2.2M46.5 204.8q2.5 -0.2 1.2 2.0M64.7 178.4q3.2 0.1 2.8 3.2M59.9 195.5q1.8 -2.3 2.8 0.5M83.6 191.1q1.0 0.5 1.8 1.2M82.1 204.5q-1.0 1.6 -2.9 2.0M70.0 215.2q-1.9 -1.8 -2.9 0.6M36.3 194.9q1.2 2.0 2.7 3.9M62.5 229.5q-0.9 2.5 -3.3 3.6M55.2 221.5q-0.6 3.0 -2.7 0.8M65.3 184.8q-0.3 2.0 1.3 3.1M78.9 195.4q2.7 1.1 1.9 3.9M84.3 192.1q-0.4 1.5 1.1 2.0M63.6 219.6q1.8 -1.3 2.4 0.8M52.2 200.4q0.4 1.0 -0.0 1.9M50.6 208.6q-0.3 5.0 4.4 3.3M50.5 225.2q-1.1 0.4 -2.3 0.1M55.6 221.5q0.2 1.6 1.7 1.9M86.8 192.1q-1.7 2.3 1.1 2.3M53.8 216.8q-2.4 0.5 -1.0 2.5M81.5 215.6q2.5 2.5 -0.8 3.7M80.4 220.3q-0.4 1.9 -1.8 3.1M54.2 185.0q-0.6 2.0 -0.9 4.1M57.8 212.9q-1.4 3.3 -4.1 0.9M59.1 243.5q-0.5 3.2 2.6 3.9M82.1 177.1q3.1 2.7 0.2 5.7M80.6 217.2q-4.0 -1.4 -4.7 2.8M61.6 243.6q-1.3 -0.4 -2.0 0.9M58.2 208.5q3.4 -0.4 4.2 3.0M69.2 173.1q-1.5 1.3 -3.1 2.5M63.7 236.8q2.8 -0.0 4.4 2.3M52.0 233.7q3.5 -2.1 4.7 1.8M54.4 232.5q-0.9 4.1 -4.0 1.3M68.4 234.6q1.0 2.6 3.8 2.7M51.6 191.6q0.7 2.2 2.8 3.3M72.2 181.3q-0.6 1.1 -1.4 2.0M86.4 214.2q-0.5 3.6 2.7 1.9M72.0 223.8q1.4 1.0 1.8 2.7M56.5 230.3q0.2 1.7 0.5 3.4M86.4 194.0q1.2 2.1 3.4 3.1M48.4 234.3q-1.8 -0.3 -2.7 1.3M58.3 239.0q-1.7 0.7 -2.3 2.4M56.2 189.0q-1.6 1.7 -3.5 0.5M72.2 218.9q2.4 0.8 0.8 2.7M83.7 186.7q-1.1 2.6 1.7 3.1M81.1 212.7q0.9 3.6 3.8 1.2M37.1 195.3q-1.9 0.5 -2.1 2.5M51.9 236.2q2.6 1.7 5.5 0.4M59.1 195.1q-0.0 2.2 2.0 3.1M67.0 241.8q-2.8 1.2 -5.6 0.1M79.9 217.2q-2.3 4.0 -4.6 0.0M58.7 198.2q-1.0 4.7 3.4 2.8M44.1 195.8q-0.7 1.5 0.8 2.3M69.5 215.2q-0.4 3.7 3.3 3.4M74.2 226.9q2.4 0.9 0.2 2.3M52.3 208.5q1.1 2.8 3.7 1.3M49.4 206.3q1.5 1.5 -0.5 2.3M37.1 206.7q-0.2 2.1 -2.3 1.9M44.6 202.0q-2.5 2.4 0.5 4.0M62.3 198.6q-3.5 -2.7 -3.8 1.8M74.4 222.0q2.2 1.5 -0.2 2.5M81.0 170.9q2.1 -1.2 3.4 0.8M51.0 204.9q-3.4 -2.9 -4.1 1.5M64.8 205.8q2.9 1.8 1.7 5.0M74.7 187.2q0.5 1.6 0.7 3.2M52.7 200.4q1.4 2.7 3.6 0.6M35.5 207.9q2.7 1.2 1.2 3.8M37.7 195.9q1.7 1.5 0.2 3.1M75.3 204.8q-1.4 1.4 0.6 1.9M66.6 195.7q-1.0 1.3 -1.0 2.9M50.2 205.6q1.0 3.8 -2.8 2.7M56.6 233.3q0.1 2.1 2.1 2.7M80.1 192.6q-2.3 -0.7 -2.6 1.7M69.1 171.8q2.2 1.5 4.7 0.7M63.9 238.5q1.9 3.9 4.3 0.3" fill="none" stroke="#0b0b0b" stroke-width="1.7" stroke-linecap="round"/>
<path d="M44.4 202.7q-0.4 0.8 -1.2 1.3M43.2 210.3q1.8 3.3 4.8 1.2M39.3 205.9q0.6 1.5 0.5 3.0M33.9 197.8q2.8 -2.8 4.2 1.0M45.8 204.3q2.7 -2.0 3.4 1.3M41.2 209.2q0.2 1.2 0.7 2.4M46.4 200.7q0.6 0.8 0.4 1.8M43.1 209.3q-0.3 1.9 -2.0 2.9M44.9 193.8q1.5 1.7 3.8 2.2M35.3 198.3q0.1 1.2 1.1 2.1M40.6 199.1q-1.1 1.8 -3.3 1.8M41.6 200.8q-0.4 3.3 2.7 4.4M35.8 196.7q1.5 2.6 -1.0 4.2M33.0 207.3q-0.6 1.5 -1.9 2.4M42.2 202.3q-2.4 1.2 -5.0 1.4M40.0 196.2q2.6 -0.9 4.2 1.4M43.5 202.5q3.1 0.3 1.8 3.2M47.7 206.2q1.4 3.2 4.4 1.4" fill="none" stroke="#0b0b0b" stroke-width="1.8" stroke-linecap="round"/>
<path d="M54.6 214.8q2.0 2.1 0.5 4.6M73.3 220.8q1.1 3.3 -0.4 6.5M56.4 216.6q0.8 1.0 0.5 2.3M57.5 216.7q1.0 1.2 0.8 2.7M57.2 217.6q0.8 2.6 -1.3 4.3M70.1 227.4q-0.3 2.9 1.2 5.4M56.2 209.5q-0.2 3.7 2.9 5.8M55.2 224.0q-1.9 1.8 -0.3 3.9M66.0 228.2q-0.2 2.6 2.4 3.0M50.3 241.9q0.8 3.3 4.1 3.2M50.0 228.2q-0.2 1.5 -1.3 2.5M66.6 210.3q1.5 1.8 3.1 3.4M60.0 225.7q0.2 1.6 -0.1 3.1M65.2 210.4q-1.7 2.6 0.8 4.4M68.2 212.4q0.2 1.9 1.8 3.1M69.4 232.6q-1.9 2.7 0.5 5.0M49.3 226.5q4.2 -0.2 5.4 3.7M66.5 228.7q2.2 3.3 -1.1 5.5M48.6 236.5q-0.2 3.4 -1.6 6.5M59.2 220.2q0.4 1.2 -0.3 2.3M69.2 226.7q0.2 1.9 -0.0 3.8M55.2 239.7q1.6 0.5 2.2 2.1M64.9 236.1q0.7 1.8 2.3 3.0M56.2 226.6q0.5 1.9 -1.0 3.2M55.1 218.5q-0.8 1.8 -0.3 3.7M49.0 235.4q1.3 1.1 2.1 2.6M60.1 240.8q3.6 2.0 2.8 6.1M59.3 236.4q0.8 1.9 2.2 3.3M75.4 224.9q2.5 1.6 5.0 3.2M61.0 209.9q3.6 0.9 4.6 4.5M82.9 220.0q1.3 3.2 4.6 4.5M83.5 214.5q-1.1 1.4 -0.0 2.9M63.9 221.1q-0.2 1.8 1.6 2.3M48.7 214.2q2.0 0.5 3.1 2.3M53.2 212.0q0.2 2.3 0.9 4.5M54.8 210.3q-1.8 1.6 -0.5 3.6M65.9 213.3q1.1 1.7 0.6 3.7M64.2 229.5q2.7 2.3 1.9 5.8M61.8 209.4q0.5 1.6 2.0 2.2M54.6 236.7q0.2 2.2 0.1 4.5M58.0 209.0q0.6 1.7 0.3 3.4M64.7 230.3q-0.4 2.3 1.7 3.3M69.0 222.7q1.5 2.0 1.5 4.4M82.2 216.0q-3.2 2.5 -1.7 6.2M52.4 226.1q3.7 1.6 3.7 5.6M74.6 216.1q0.1 3.3 3.4 3.5M57.2 211.0q1.0 2.5 2.5 4.7M65.6 241.2q3.0 1.1 2.0 4.1M65.6 217.3q0.3 2.4 0.3 4.8M49.5 225.7q-2.0 2.3 0.2 4.4M57.0 223.7q0.4 1.4 -0.5 2.6M56.0 240.5q0.6 2.2 1.6 4.2M65.1 218.1q1.7 2.7 1.5 5.8M53.7 215.4q-3.4 2.4 -1.2 5.9M52.9 237.3q-0.1 2.4 2.2 2.9M59.5 236.4q-2.9 1.6 -1.7 4.7M72.4 211.5q0.2 3.6 -1.9 6.4M53.3 232.9q-1.9 2.2 -2.5 5.1M50.9 234.1q-1.0 1.0 -0.7 2.4M68.5 242.0q1.3 2.3 1.4 4.9M59.9 208.3q0.5 1.6 -0.5 2.9M73.5 226.3q2.0 0.9 2.1 3.0M71.6 232.6q-0.8 4.2 3.2 5.6M82.1 218.1q-2.7 3.5 0.5 6.5M76.6 219.7q0.4 1.7 0.8 3.4M67.2 224.8q3.0 1.2 3.3 4.5M69.0 216.3q2.5 -0.2 2.9 2.3M60.0 226.8q0.7 3.2 0.3 6.5M62.1 216.1q0.6 2.7 -1.8 4.0M63.1 232.6q-0.3 2.9 1.0 5.6M55.9 227.3q2.8 2.8 1.5 6.6" fill="none" stroke="#0b0b0b" stroke-width="1.7" stroke-linecap="round"/>
<path d="M52.9 219.7C54.9 217.1 61.3 216.2 65.1 216.2C68.8 216.2 73.5 217.9 75.5 219.7C77.5 221.4 77.8 223.7 77.3 226.6C76.7 229.5 74.9 234.8 72.0 237.1C69.1 239.4 63.0 241.4 59.8 240.6C56.6 239.7 54.0 235.4 52.9 231.9C51.7 228.4 50.8 222.3 52.9 219.7z" fill="#0b0b0b"/>
<path d="M56.5 229.6q-1.1 0.6 -1.5 1.8M60.7 234.9q-0.9 1.5 -2.1 2.7M63.4 218.8q-1.6 -0.9 -2.9 0.4M59.4 233.1q1.4 0.4 2.6 1.1M66.8 234.3q-1.1 1.0 -1.2 2.4M67.9 217.3q2.3 -0.8 3.3 1.4M64.4 216.6q0.3 0.8 0.6 1.6M73.6 228.1q-0.4 2.2 1.8 2.7M55.8 223.6q-1.0 0.4 -2.0 0.9M62.9 225.9q0.6 2.3 2.9 3.0M70.1 227.1q0.4 1.2 0.5 2.5M60.6 231.4q0.2 1.5 1.6 2.2M64.0 227.7q0.8 2.0 0.6 4.1M72.0 226.0q-0.7 1.8 -2.4 2.6M68.9 232.5q0.0 1.6 -1.3 2.5M71.7 229.3q0.2 2.4 2.1 3.9M53.3 226.3q1.0 1.7 2.6 2.8M58.3 225.9q0.8 2.8 3.7 2.6M54.3 230.4q-1.5 1.3 -3.5 1.9M67.3 233.6q-1.5 1.1 -2.6 2.7M59.0 233.4q-1.8 1.4 -0.4 3.2M56.2 235.2q-1.7 0.2 -1.6 1.9M59.6 230.0q1.1 1.5 0.0 3.1" fill="none" stroke="#fdfdfd" stroke-width="0.9" stroke-linecap="round"/>
<path d="M78.3 196.9C79.8 194.9 84.6 194.4 86.5 194.7C88.3 195.0 88.3 197.3 89.4 198.6C90.6 200.0 93.3 201.6 93.6 202.8C94.0 204.0 91.7 204.9 91.4 205.8C91.1 206.7 92.4 207.4 91.9 208.5C91.4 209.7 89.5 211.5 88.2 212.7C86.9 214.0 85.5 215.9 84.0 215.9C82.6 215.9 80.7 214.1 79.6 212.6C78.5 211.1 77.7 209.7 77.5 207.0C77.3 204.4 76.8 199.0 78.3 196.9z" fill="#fdfdfd"/>
<path d="M84.3 185.4C84.7 187.0 85.9 192.5 86.7 194.7C87.6 196.9 88.0 197.3 89.2 198.6C90.3 200.0 93.3 201.7 93.6 202.8C94.0 204.0 91.7 204.6 91.4 205.6C91.2 206.5 92.7 207.3 92.2 208.5C91.7 209.7 89.8 210.9 88.5 212.7C87.1 214.5 85.0 218.3 84.3 219.4" fill="none" stroke="#0b0b0b" stroke-width="1.5" stroke-linecap="round" stroke-linejoin="round"/>
<path d="M81.2 199.6C81.6 199.5 83.1 198.6 84.0 198.6C84.9 198.7 86.1 199.9 86.5 200.1" fill="none" stroke="#0b0b0b" stroke-width="1.4" stroke-linecap="round" stroke-linejoin="round"/>
<path d="M80.6 201.9 L83.0 202.3" fill="none" stroke="#0b0b0b" stroke-width="1.1" stroke-linecap="round" stroke-linejoin="round"/>
<path d="M87.3 207.0 L90.2 208.0" fill="none" stroke="#0b0b0b" stroke-width="1.1" stroke-linecap="round" stroke-linejoin="round"/>
<path d="M78.1 207.0C78.5 207.7 80.3 209.7 80.6 210.7C80.8 211.8 79.5 212.8 79.3 213.2" fill="none" stroke="#0b0b0b" stroke-width="1.2" stroke-linecap="round" stroke-linejoin="round"/>
<path d="M81.6 198.3q2.1 1.8 1.1 4.4M81.2 200.1q-1.8 -0.2 -3.6 0.1M83.4 199.0q2.3 -0.3 4.3 1.0" fill="none" stroke="#0b0b0b" stroke-width="1.1" stroke-linecap="round"/>
<path d="M84.3 219.4C85.1 220.2 87.1 222.9 89.2 224.3C91.3 225.8 94.1 226.8 96.6 228.0C99.1 229.3 102.8 231.1 104.0 231.7" fill="none" stroke="#0b0b0b" stroke-width="1.6" stroke-linecap="round" stroke-linejoin="round"/>
<path d="M169.5 225.0q3.1 1.8 2.1 5.2M158.0 215.6q-0.2 1.3 0.8 2.0M150.8 201.6q-2.3 3.1 -5.6 1.2M151.8 189.7q-1.6 -0.1 -2.0 1.5M154.8 212.6q2.2 3.1 5.0 0.4M169.9 225.6q-1.0 2.3 -3.3 1.3M162.0 201.8q-1.9 0.7 -3.3 2.2M153.3 196.2q0.3 4.6 4.2 2.1M157.4 209.6q-3.2 -1.5 -3.4 2.0M169.0 193.0q0.4 2.5 -2.2 2.9M176.1 236.3q2.0 0.8 1.3 2.8M174.7 215.9q3.3 -2.9 4.3 1.3M166.4 235.6q1.8 -1.6 2.2 0.7M169.7 193.3q-1.8 0.8 -1.6 2.8M156.8 211.3q0.5 1.8 -0.6 3.3M158.1 197.8q3.3 -0.8 2.3 2.4M156.3 219.0q0.8 2.4 3.0 1.1M161.8 214.0q-2.1 -0.9 -3.2 1.2M167.1 223.1q0.8 2.5 -0.0 5.0M159.1 213.5q-0.4 2.0 -0.4 4.1M172.9 237.5q1.6 -1.0 3.0 0.2M167.1 200.0q-2.0 -1.0 -2.7 1.2M169.2 225.1q1.3 2.4 0.7 5.2M164.7 236.8q-4.0 -2.8 -6.1 1.6M179.2 216.0q-1.1 3.3 2.4 3.5M163.5 243.5q-1.2 2.1 -2.4 0.1M150.7 206.5q2.1 1.3 4.5 1.6M178.1 209.3q-1.5 2.3 -1.5 5.1M151.6 211.0q1.0 4.1 -3.1 5.0M161.1 216.0q-1.2 1.5 -0.9 3.4M168.3 195.6q-0.4 1.3 -1.8 1.6M178.7 216.9q0.5 1.6 -1.1 2.3M173.8 227.1q3.4 -3.9 5.2 0.9M152.6 184.3q-2.2 1.6 0.2 2.8M156.7 198.4q1.6 2.7 4.7 3.1M166.9 240.1q0.2 1.2 -0.5 2.2M174.1 198.0q2.2 1.4 4.3 2.8M152.1 197.0q-2.0 -0.3 -2.9 1.6M179.5 223.7q-0.9 2.9 1.7 4.4M162.7 186.0q0.5 2.0 1.5 3.9M157.0 191.6q-1.5 3.2 -4.4 1.2M162.9 213.3q1.9 3.1 -1.1 5.2M152.2 227.1q-0.3 2.4 -2.2 1.0M152.2 211.3q-3.4 1.7 -2.1 5.3M171.9 227.0q-0.2 1.9 -2.0 1.2M151.2 184.7q-0.8 0.9 -2.1 0.8M148.6 185.3q-4.9 1.4 -1.8 5.4M146.9 189.4q2.7 -1.0 2.7 1.9M152.5 221.9q1.1 0.9 2.4 1.4M158.6 191.6q0.8 2.3 -0.1 4.5M162.0 184.9q2.7 0.2 3.8 2.7M165.9 206.6q-1.6 3.3 -4.3 0.8M158.9 226.1q-3.3 -0.2 -2.2 2.9M155.7 228.7q-4.9 -0.2 -3.2 4.4M152.0 206.7q0.6 4.8 -4.2 3.8M179.5 228.1q0.2 3.1 2.4 5.2M165.6 237.3q-3.6 -0.0 -5.5 3.0M159.6 217.2q0.3 2.5 -2.0 1.7M167.4 199.7q1.2 2.3 -1.1 3.3M161.1 235.3q3.2 1.3 4.2 4.6M169.6 194.1q2.0 2.1 4.6 3.3M157.0 199.4q3.1 4.9 -2.6 5.7M170.4 196.8q-3.4 -0.1 -2.7 3.2M177.9 208.4q1.6 1.3 1.1 3.3M171.3 211.0q1.0 3.4 4.4 2.3M166.9 192.4q1.5 0.7 0.6 2.2M170.9 217.7q-2.1 4.2 -4.9 0.5M161.5 233.3q-3.5 2.0 -0.7 4.9M158.5 189.4q2.6 -2.1 4.8 0.4M150.0 219.7q4.7 0.7 2.6 4.9M168.8 227.4q-1.3 2.7 -1.0 5.7M175.5 224.2q-0.5 4.3 3.8 4.9M167.5 211.3q1.0 1.0 0.2 2.1M166.4 213.9q2.6 -2.4 4.2 0.8M166.6 224.5q-1.1 3.8 -5.0 3.8M161.4 213.6q-3.0 3.9 1.8 5.2M162.3 207.0q-2.4 3.5 1.8 3.7M148.4 224.3q1.4 0.3 2.4 1.2M166.4 229.5q1.9 1.0 2.4 3.2M162.3 190.6q-1.7 -0.7 -2.5 0.9M147.8 224.1q-0.3 1.6 0.5 3.0M157.2 191.3q4.0 -3.3 5.1 1.8M168.2 211.4q-0.4 4.3 -4.7 3.6M161.9 201.0q1.4 3.0 4.7 3.6M178.4 220.6q-3.0 -0.3 -2.2 2.6M163.0 191.0q-2.6 -2.5 -4.3 0.7M154.2 216.5q0.7 2.2 3.0 1.7M171.9 203.2q-2.4 0.7 -2.2 3.2M161.6 189.7q0.3 1.9 2.2 1.3M162.8 222.2q2.7 0.8 1.5 3.3M179.3 219.8q-1.2 0.8 -1.6 2.1M166.8 229.9q-3.6 -2.8 -4.3 1.8M159.7 222.4q1.4 1.5 1.0 3.5M168.0 204.2q-2.5 -0.9 -3.2 1.7M169.0 234.5q0.7 2.4 -1.6 3.4M156.5 188.6q-2.2 2.5 -5.3 1.3M158.7 189.6q-2.3 0.4 -1.1 2.4M171.9 196.4q1.5 2.5 2.6 5.2M152.6 200.4q0.0 2.5 2.5 3.0M173.4 202.5q2.2 -1.5 2.7 1.1M173.0 219.6q-0.2 1.1 0.3 2.1M156.7 184.6q-2.1 3.2 1.7 3.5M158.1 239.4q3.1 3.7 -1.3 5.6M164.9 188.4q1.8 0.8 0.7 2.4M179.9 218.1q-3.3 -2.3 -5.8 0.8M167.9 211.6q1.5 4.0 -2.7 4.6M163.9 207.9q-2.5 0.8 -2.6 3.3M165.3 231.1q3.7 -2.6 5.3 1.6M160.8 211.1q-0.3 3.2 2.9 3.4M157.1 234.6q2.7 0.5 5.5 0.0M172.2 218.9q0.5 2.4 1.3 4.7M152.6 210.9q1.1 2.5 -1.7 2.7M150.4 194.6q3.2 3.1 -1.1 4.2M158.7 192.2q-2.5 3.4 -5.6 0.4M171.8 232.9q4.9 -1.4 4.8 3.7M151.3 196.7q-2.7 1.1 -5.6 1.6M154.0 222.4q-1.6 2.1 -3.9 3.3M161.4 211.3q-0.9 2.0 0.5 3.6M170.2 202.6q3.6 -2.3 4.0 2.0M159.0 204.6q1.2 -0.0 2.2 0.6M178.2 234.1q1.0 0.6 1.2 1.9M156.4 190.9q-1.5 2.0 -4.0 2.2M151.7 188.9q-0.1 1.5 -1.6 1.5M170.6 231.2q1.5 0.0 2.0 1.4M172.2 227.9q1.1 1.5 0.5 3.3M161.9 231.4q-2.7 -1.1 -2.6 1.8M166.4 241.6q-0.1 6.1 5.2 3.1M152.6 232.1q1.0 0.9 1.5 2.1M174.6 224.4q-2.0 -1.4 -2.8 0.9M163.2 185.5q1.4 1.0 2.0 2.6M178.2 219.1q3.3 -1.9 5.4 1.2M170.9 203.4q2.0 -2.1 3.0 0.6M159.9 216.1q1.0 2.1 -0.8 3.7M157.2 212.7q3.4 -0.6 2.4 2.8M155.9 200.8q1.3 0.0 2.6 0.2M158.1 209.8q2.4 -2.9 4.3 0.3M172.8 216.8q-0.7 2.7 2.0 3.7" fill="none" stroke="#0b0b0b" stroke-width="1.7" stroke-linecap="round"/>
<path d="M163.6 233.4q-3.2 -1.0 -5.0 1.7M168.9 218.3q-0.7 2.0 -1.0 4.0M173.4 236.4q-1.1 0.5 -1.6 1.6M166.6 238.7q0.5 1.1 0.2 2.2M165.5 203.8q-1.8 2.6 0.2 5.0M157.6 237.6q0.3 1.2 1.5 1.3M175.2 232.7q1.2 1.4 3.0 0.8M176.9 221.3q0.6 1.0 0.1 2.1M161.8 209.7q2.6 -0.4 4.4 1.6M160.8 218.8q-3.1 1.0 -1.1 3.6M155.6 218.2q0.3 2.5 -1.5 4.3M154.6 230.6q3.0 -1.9 5.3 0.7M155.6 233.2q4.5 -0.3 3.8 4.1M170.2 218.8q-1.9 1.6 -3.7 3.3M156.5 221.2q0.3 2.5 2.4 4.0M154.6 207.6q-3.5 -3.5 -5.8 0.9M174.0 236.0q3.0 3.3 -1.1 5.2M170.7 235.4q3.2 -3.4 5.3 0.7M170.6 219.5q-2.8 0.6 -5.6 0.2M168.9 227.6q-0.0 2.6 1.9 4.4M170.4 233.9q1.7 0.9 3.1 2.3M169.1 222.3q1.2 -0.4 2.4 0.0M155.6 207.6q-0.5 1.6 0.8 2.8M176.3 228.1q-1.1 0.1 -1.9 0.8M170.7 225.3q2.9 0.4 1.7 3.0M169.1 238.8q-2.9 1.5 -1.5 4.4M177.7 234.3q5.0 2.4 0.8 5.9M167.0 226.4q0.2 3.0 -1.9 5.1M166.4 236.2q-2.5 0.4 -5.1 0.1M175.8 215.3q0.9 0.6 1.1 1.7M156.6 228.8q1.0 0.7 1.4 2.0M151.9 224.5q-0.9 1.8 -3.0 2.2M164.5 207.6q-0.5 1.6 1.2 1.7M157.1 219.5q1.2 1.7 2.7 3.0M150.1 213.2q-2.1 -0.3 -2.6 1.7M169.7 224.4q0.9 4.7 -3.8 4.0M152.1 231.4q-2.8 -2.3 -5.4 0.2M153.0 223.1q1.8 3.0 -1.5 4.3M178.0 220.5q-1.5 0.7 -3.1 0.2M156.1 207.2q0.3 1.8 -1.1 3.0M168.6 238.6q-4.2 -2.8 -5.6 2.0M155.9 234.9q1.2 1.5 -0.6 2.3M152.0 230.0q2.0 1.9 4.1 0.0M173.3 219.9q1.8 1.4 3.8 0.3M149.3 221.3q1.5 4.3 -3.0 4.8M170.3 229.3q-1.5 0.8 -2.5 2.2M160.9 221.2q-0.6 2.4 1.9 2.4M158.9 232.5q3.0 -1.3 2.9 2.0M177.8 231.6q3.2 4.0 -1.6 5.7M153.1 199.5q-3.8 0.9 -1.7 4.1M157.2 207.9q2.3 -1.3 2.6 1.3M163.3 216.4q-1.6 1.3 -3.4 0.5M173.6 221.5q1.2 0.5 2.4 0.2M169.8 207.8q-2.9 -0.3 -4.1 2.4" fill="none" stroke="#0b0b0b" stroke-width="1.7" stroke-linecap="round"/>
<path d="M135.1 196.6C135.6 195.3 139.0 191.0 140.9 191.7C142.9 192.3 146.6 198.8 146.9 200.3C147.1 201.9 143.7 201.4 142.5 200.9C141.4 200.4 140.8 197.4 140.1 197.2C139.3 197.0 139.0 199.8 138.2 199.7C137.4 199.6 134.7 197.9 135.1 196.6z" fill="#0b0b0b"/>
<path d="M133.3 196.0C134.5 195.2 138.6 190.5 140.9 191.3C143.3 192.1 146.4 199.3 147.5 200.9" fill="none" stroke="#0b0b0b" stroke-width="1.3" stroke-linecap="round" stroke-linejoin="round"/>
<path d="M124.5 200.5q-1.5 3.0 1.3 5.0M121.5 202.9q0.5 0.8 0.6 1.8M121.7 204.0q0.9 0.9 2.0 1.4M127.9 211.8q1.1 1.0 1.0 2.5M127.1 211.5q0.6 0.7 1.3 1.2M132.7 214.2q2.4 -0.6 4.0 1.2M128.6 202.7q1.8 0.9 3.7 0.3M123.2 210.4q3.1 -1.8 4.9 1.3M134.2 208.3q1.6 0.7 3.4 0.4M122.7 200.1q0.3 2.2 2.3 3.0M125.6 200.3q1.7 1.3 3.5 -0.0M132.1 211.8q-0.7 2.0 0.9 3.3M134.6 211.8q1.6 -0.4 2.2 1.1M133.5 206.0q2.5 0.6 4.8 1.9M133.4 213.1q2.1 1.4 4.7 1.7M122.8 207.7q1.3 -0.1 1.6 1.2M127.5 212.0q0.9 2.0 1.5 4.1" fill="none" stroke="#0b0b0b" stroke-width="1.4" stroke-linecap="round"/>
<path d="M122.8 199.1C123.4 199.5 126.0 200.6 126.5 201.5C127.0 202.5 126.0 204.1 125.9 204.6" fill="none" stroke="#0b0b0b" stroke-width="1.4" stroke-linecap="round" stroke-linejoin="round"/>
<path d="M119.7 210.8C120.3 211.1 122.9 212.0 123.4 212.7C123.9 213.3 122.9 214.2 122.8 214.5" fill="none" stroke="#0b0b0b" stroke-width="1.2" stroke-linecap="round" stroke-linejoin="round"/>
<path d="M142.5 205.9 L143.8 210.8" fill="none" stroke="#0b0b0b" stroke-width="1.0" stroke-linecap="round" stroke-linejoin="round"/>
<path d="M146.9 215.7 L148.1 218.2" fill="none" stroke="#0b0b0b" stroke-width="1.0" stroke-linecap="round" stroke-linejoin="round"/>
<path d="M142.4 222.5q1.8 0.9 3.5 2.1M118.7 216.7q1.5 0.5 1.5 2.1M143.7 223.0q3.2 1.9 2.7 5.5M135.7 223.5q2.9 -0.4 4.7 2.1M130.7 226.1q2.7 2.4 2.5 6.0M123.4 217.8q0.8 1.1 2.1 0.9M124.7 223.1q1.9 2.9 1.1 6.3M145.0 223.9q0.0 4.2 4.2 4.6M125.5 219.8q-1.9 3.4 0.4 6.4M147.2 223.2q2.1 1.3 3.4 3.5M137.6 226.3q3.8 -0.4 4.3 3.4M128.6 220.8q1.2 2.8 2.7 5.4M136.4 222.3q0.9 2.5 2.3 4.8M131.0 226.6q2.0 2.6 4.7 4.5M133.6 221.0q1.4 1.4 0.4 3.0M124.1 218.7q2.1 -0.2 2.6 1.8M137.6 222.9q0.8 2.5 2.6 4.3M126.3 221.1q1.4 2.6 4.3 3.2M135.8 227.8q-0.1 2.8 2.2 4.5M126.0 220.0q-0.5 2.2 0.8 4.1M140.1 223.1q0.5 3.2 3.3 4.7M136.4 223.3q0.4 2.3 1.3 4.5M122.0 221.8q0.8 2.3 3.2 2.1M122.2 221.8q1.9 3.7 6.0 3.1M137.5 221.1q1.1 1.0 2.0 2.2" fill="none" stroke="#0b0b0b" stroke-width="1.7" stroke-linecap="round"/>
<path d="M130.2 193.5C129.7 193.8 128.3 194.8 127.3 195.5C126.4 196.2 125.1 197.6 124.6 198.0" fill="none" stroke="#0b0b0b" stroke-width="1.1" stroke-linecap="round" stroke-linejoin="round"/>
<path d="M119.7 224.4C123.8 224.0 131.2 225.0 135.7 225.6C140.3 226.2 144.0 225.8 146.9 228.1C149.7 230.3 150.1 236.4 153.0 239.2C155.9 242.0 160.4 243.9 164.1 244.8C167.8 245.6 173.6 242.4 175.2 244.1C176.9 245.9 176.7 252.8 174.0 255.2C171.3 257.7 164.5 258.5 159.2 259.0C153.8 259.4 147.3 259.0 141.9 257.7C136.6 256.5 131.6 254.0 127.1 251.5C122.6 249.1 117.8 245.8 114.8 242.9C111.7 240.0 109.2 236.7 108.6 234.3C108.0 231.8 109.2 229.7 111.0 228.1C112.9 226.4 115.6 224.8 119.7 224.4z" fill="#0b0b0b"/>
<path d="M176.3 239.0Q177.8 242.3 179.1 245.7M175.3 240.7Q177.5 245.4 179.4 250.2M173.4 240.6Q175.9 246.0 178.4 251.4M171.5 240.8Q174.5 247.2 177.3 253.8M169.8 241.8Q172.9 248.5 176.1 255.2M168.6 242.7Q171.8 249.7 175.1 256.6M166.3 242.9Q170.0 251.0 174.1 258.9M164.0 242.8Q168.0 251.3 172.2 259.7M160.2 240.6Q160.6 241.6 160.7 242.7M161.8 244.0Q165.3 251.6 168.6 259.4M157.5 239.6Q162.2 249.7 167.2 259.6M154.2 237.1Q159.6 248.8 165.0 260.5M146.4 223.6Q155.1 242.2 163.6 260.7M144.1 224.2Q152.6 242.5 161.1 260.8M142.5 223.5Q143.4 225.3 144.4 227.1M145.1 229.0Q152.5 244.9 159.9 260.7M140.3 223.5Q149.1 242.5 157.9 261.6M137.0 221.8Q146.2 241.7 155.5 261.6M135.3 221.6Q144.6 241.6 153.7 261.8M133.0 221.5Q142.2 241.1 151.0 260.9M131.0 221.3Q140.2 240.9 149.7 260.3M128.4 220.4Q137.8 240.6 147.4 260.8M126.4 220.8Q135.6 240.6 145.1 260.2M124.1 220.0Q133.6 240.4 143.4 260.8M121.8 219.5Q129.5 236.1 137.6 252.5M138.5 255.3Q139.3 257.2 140.1 259.2M119.3 219.0Q128.5 238.6 137.8 258.1M117.8 220.2Q126.5 238.9 135.5 257.5M116.2 221.0Q124.6 239.0 133.0 256.9M114.7 223.0Q122.5 239.6 130.1 256.3M112.8 222.9Q120.3 238.9 127.7 254.9M111.1 224.4Q117.7 238.6 124.4 252.6M109.8 225.8Q115.7 238.4 121.4 251.2M108.0 227.7Q112.6 237.7 117.0 247.8M107.1 229.4Q108.1 231.6 109.4 233.7M110.0 235.6Q112.4 240.7 114.4 245.9M105.5 230.7Q106.2 232.1 106.7 233.7M108.1 236.2Q109.5 239.3 111.2 242.2" fill="none" stroke="#0b0b0b" stroke-width="1.1" stroke-linecap="round"/>
<path d="M118.1 222.1q1.1 2.2 0.2 4.5M135.5 224.9q-0.7 3.6 2.8 4.7M140.6 224.7q3.1 1.2 4.5 4.2M134.5 225.1q3.6 2.5 1.4 6.4M137.2 228.6q1.7 1.7 3.2 3.5M131.4 221.8q2.6 0.7 3.7 3.2M133.6 227.0q-0.5 2.0 -0.2 4.1M148.8 226.3q1.3 1.3 0.5 3.0M128.6 222.1q2.1 0.8 2.1 3.1M140.3 222.8q-1.4 3.3 -0.1 6.6M144.9 229.4q1.1 3.1 3.3 5.5M117.2 221.9q2.3 1.3 1.1 3.6M129.9 223.6q2.9 2.3 1.7 5.8M136.8 222.6q2.9 2.2 3.1 5.8M127.2 220.3q-1.5 2.7 1.1 4.5M117.6 221.4q0.2 2.9 2.4 5.0M116.6 219.4q1.8 0.7 2.6 2.5M133.5 227.3q0.8 1.4 2.4 1.8M117.6 218.9q0.4 2.5 2.8 3.5M132.9 224.1q1.0 2.1 3.3 2.1M128.7 228.2q0.6 1.2 1.3 2.4M120.3 218.0q-3.5 2.9 -0.6 6.4M134.2 226.9q2.6 1.5 2.2 4.4M137.7 223.0q2.8 0.6 4.4 2.9M131.9 220.9q2.3 2.2 2.3 5.3M116.9 217.5q-0.3 3.3 -0.1 6.6" fill="none" stroke="#0b0b0b" stroke-width="1.6" stroke-linecap="round"/>
<path d="M137.7 245.5q1.0 1.4 1.0 3.0M141.2 239.2q1.9 0.6 2.6 2.5M149.2 249.8q0.6 2.2 0.3 4.4M135.0 250.5q0.8 0.6 0.8 1.6M145.7 249.7q0.2 2.5 2.0 4.3M170.6 245.7q1.0 1.5 1.4 3.2M120.5 231.2q2.8 1.2 1.9 4.1M149.6 253.1q-0.1 2.7 2.6 3.1M120.7 242.0q1.7 0.8 2.2 2.6M121.0 230.2q-0.0 1.0 0.6 1.8M136.8 240.2q0.9 2.3 1.6 4.7M158.4 250.0q0.5 1.5 2.0 2.0M158.4 245.1q0.9 0.9 0.5 2.1M161.8 245.9q1.8 1.0 2.8 2.8M165.4 246.2q0.3 1.5 1.8 1.8M164.8 248.6q1.5 0.9 0.6 2.4M120.1 235.4q3.0 0.5 3.7 3.5M157.5 250.7q0.3 1.6 1.9 1.9M157.9 246.8q0.5 2.3 1.1 4.5M138.3 246.4q-1.0 2.8 1.6 4.2M149.9 257.6q-0.5 2.0 0.9 3.6M137.8 231.9q0.2 1.5 1.4 2.3M145.4 235.5q-0.3 1.1 0.4 1.9M164.3 251.6q0.6 0.8 1.1 1.6M122.2 224.9q2.3 0.0 2.4 2.3M149.0 245.3q1.1 1.5 2.6 2.6M143.4 234.9q0.9 0.9 1.7 1.9M133.0 244.6q0.8 1.9 2.4 3.4M125.8 250.2q-0.1 1.4 0.9 2.3M126.3 246.0q1.4 0.3 1.4 1.7M152.0 237.8q0.3 2.5 0.9 4.9M131.3 235.5q0.1 1.2 1.3 1.4M140.1 246.8q0.4 0.9 0.2 1.8M113.8 227.4q-1.7 2.4 0.4 4.5M144.0 227.5q-0.2 2.6 1.9 4.1M150.9 244.0q1.5 0.2 1.6 1.8M137.4 234.4q0.9 2.7 3.6 3.6M116.6 228.0q1.2 2.3 3.1 3.9M147.6 238.2q0.5 1.5 2.0 2.2M133.4 245.2q1.9 1.4 3.2 3.3M117.8 242.0q0.9 1.6 2.2 2.9M129.4 248.7q0.3 0.9 0.3 1.9M120.1 234.4q0.2 2.6 2.7 2.9M123.3 238.6q-0.4 1.3 0.9 1.8M121.0 230.5q1.8 1.3 1.2 3.5M123.2 245.3q0.6 1.3 1.9 1.8M166.5 252.3q2.2 1.3 2.9 3.7M148.6 245.7q1.7 1.4 1.5 3.6M124.5 227.3q1.1 0.6 0.7 1.8M134.1 236.9q1.5 0.5 2.0 2.0M140.7 232.4q0.3 2.5 0.6 4.9M158.8 251.3q0.8 1.3 0.7 2.9" fill="none" stroke="#fdfdfd" stroke-width="0.9" stroke-linecap="round"/>
<path d="M106.4 267.9Q106.9 271.5 107.4 275.1M102.4 262.6Q104.1 274.6 105.7 286.6M99.1 260.7Q101.1 275.0 103.3 289.4M96.8 259.1Q99.1 275.4 101.6 291.7M94.1 258.3Q95.6 268.9 97.0 279.5M97.5 282.4Q98.2 287.4 98.8 292.3M91.2 256.3Q93.7 273.7 96.0 291.2M87.4 252.0Q89.9 270.0 92.1 288.1M85.5 251.4Q88.0 269.5 90.3 287.7M82.4 246.7Q85.2 266.1 88.0 285.5M79.0 242.9Q81.8 262.5 84.2 282.2M75.5 235.7Q78.7 257.9 81.9 280.1M73.2 232.8Q74.8 244.0 76.3 255.2M76.7 258.1Q78.2 268.7 80.1 279.3M69.5 231.0Q72.6 253.3 76.0 275.6M67.5 230.3Q68.8 239.9 70.0 249.5M70.5 252.0Q72.1 263.2 73.9 274.3M64.4 228.0Q67.6 250.4 70.9 272.8M62.8 228.2Q66.0 250.7 69.4 273.1M59.9 227.6Q62.9 249.4 65.7 271.2M57.5 225.9Q60.6 247.8 63.7 269.6M55.2 225.6Q58.2 246.7 61.0 267.7M53.2 226.8Q55.9 246.4 58.8 265.9M50.5 227.4Q52.6 242.4 54.9 257.3M47.8 227.4Q48.8 234.9 49.9 242.5" fill="none" stroke="#0b0b0b" stroke-width="0.95" stroke-linecap="round"/>
<path d="M48.0 227.8Q53.8 227.5 59.6 226.9M47.1 230.4Q52.3 230.2 57.5 229.7M58.6 229.8Q62.6 229.6 66.6 229.6M47.5 233.9Q60.1 233.3 72.7 232.8M47.8 237.2Q61.3 236.5 74.7 235.4M49.4 239.2Q62.7 238.5 76.0 238.0M49.1 241.7Q63.2 240.9 77.2 240.3M51.1 244.5Q52.2 244.5 53.3 244.7M55.4 244.3Q67.6 243.7 79.7 243.2M51.4 247.0Q63.9 246.3 76.3 245.8M78.9 245.5Q79.8 245.5 80.7 245.7M52.1 249.3Q67.5 248.5 83.0 247.9M52.5 252.0Q68.6 251.1 84.7 250.2M54.1 254.1Q58.3 253.9 62.4 253.4M65.0 253.5Q76.1 252.9 87.1 252.4M54.4 255.9Q72.0 255.0 89.6 253.9M56.0 258.8Q69.6 258.1 83.3 257.6M86.0 257.2Q89.4 257.1 92.7 256.8M56.8 262.4Q77.6 261.3 98.5 260.4M57.9 265.3Q58.6 265.3 59.4 265.4M62.1 265.1Q83.3 264.0 104.5 262.8M62.1 268.4Q84.0 267.2 105.9 266.2M66.9 271.5Q86.8 270.5 106.7 269.8M74.7 275.0Q91.4 274.1 108.1 273.1M77.9 277.1Q79.5 277.0 81.0 277.2M83.1 276.8Q95.2 276.2 107.3 275.5M80.4 279.2Q93.8 278.5 107.3 277.7M83.8 282.4Q95.4 281.8 107.1 281.1M87.2 285.2Q96.7 284.7 106.3 284.4M90.4 287.6Q97.7 287.2 105.1 286.8M94.7 289.5Q96.7 289.4 98.7 288.9M100.2 289.2Q101.6 289.1 103.1 289.3M99.6 292.4Q100.3 292.4 101.0 292.7" fill="none" stroke="#0b0b0b" stroke-width="0.95" stroke-linecap="round"/>
<path d="M57.0 251.6q1.4 1.6 2.0 3.7M57.2 251.6q3.0 2.3 3.8 5.9M60.8 245.2q1.9 2.7 2.7 5.9M59.2 238.4q-0.3 3.1 0.6 6.1M61.8 241.6q-0.6 1.9 -0.9 3.8M57.7 245.9q1.5 2.5 1.5 5.4M52.1 235.9q2.6 2.0 2.9 5.2M58.9 253.1q1.2 2.9 2.5 5.7M48.5 231.5q0.5 1.5 0.9 3.0M51.1 230.0q-1.2 1.4 -0.6 3.1M61.0 259.9q-1.1 2.0 -0.1 4.1M58.7 257.7q0.4 3.0 1.4 5.8M61.0 249.3q-0.3 1.4 0.6 2.6M57.9 245.8q1.1 3.6 -0.2 7.2M57.8 260.9q-0.1 1.3 -0.4 2.5M52.5 238.8q-0.5 1.8 0.2 3.6M57.1 262.5q0.7 1.4 1.0 2.9M59.1 255.8q-0.6 3.7 -0.9 7.4M58.4 258.9q-1.0 2.6 0.2 5.1M59.6 233.1q-0.5 1.3 0.0 2.6M58.6 233.4q-0.2 1.6 0.2 3.3M57.8 248.4q1.1 3.4 1.5 6.9M61.3 239.5q2.0 2.3 1.3 5.3M59.7 246.3q2.8 2.1 3.4 5.6M53.3 242.1q0.7 3.5 -0.8 6.7M58.4 240.9q1.8 3.1 0.3 6.3M54.6 243.5q-0.2 2.4 0.6 4.8M53.6 247.3q1.3 3.3 0.2 6.6M49.9 237.6q-0.6 3.9 1.9 7.0M61.5 254.3q-0.1 2.2 -0.1 4.3" fill="none" stroke="#0b0b0b" stroke-width="1.2" stroke-linecap="round"/>
<path d="M49.0 236.6C49.8 239.5 52.1 249.2 53.6 254.0C55.1 258.9 57.3 263.8 58.0 265.7" fill="none" stroke="#0b0b0b" stroke-width="1.3" stroke-linecap="round" stroke-linejoin="round"/>
<path d="M106.0 267.0C108.3 265.1 114.0 270.9 118.0 272.5C122.0 274.1 126.5 275.3 130.0 276.5C133.5 277.7 135.3 279.7 139.0 279.5C142.7 279.3 148.8 276.8 152.0 275.5C155.2 274.2 156.7 270.9 158.0 272.0C159.3 273.1 160.7 279.2 160.0 282.0C159.3 284.8 157.3 288.0 154.0 289.0C150.7 290.0 144.7 288.5 140.0 288.0C135.3 287.5 130.7 285.8 126.0 286.0C121.3 286.2 115.7 289.3 112.0 289.0C108.3 288.7 105.0 287.7 104.0 284.0C103.0 280.3 103.7 268.9 106.0 267.0z" fill="#0b0b0b"/>
<path d="M158.7 269.0Q159.7 269.4 160.8 269.5M157.4 270.3Q159.5 271.0 161.7 271.6M154.6 271.9Q158.8 273.4 162.9 274.9M152.6 272.8Q157.7 274.7 162.6 276.8M150.6 274.1Q157.2 276.5 163.9 278.9M147.4 275.4Q155.2 278.2 162.9 281.1M144.7 276.5Q154.0 279.9 163.4 283.0M140.9 277.1Q151.7 281.0 162.5 285.0M103.5 265.9Q132.4 276.5 161.3 287.1M102.6 268.6Q131.9 279.2 161.0 290.2M102.5 270.1Q131.7 280.7 160.9 291.4M101.5 272.0Q129.8 282.3 157.9 293.0M101.5 274.7Q127.8 284.3 154.3 293.6M100.5 277.0Q125.7 286.1 150.9 295.3M100.8 279.5Q121.8 287.2 142.7 295.0M99.9 280.6Q116.7 286.7 133.6 292.6M101.5 283.1Q114.7 287.9 128.0 292.6M101.3 285.2Q113.1 289.4 125.0 293.4M102.1 287.6Q111.6 291.1 121.2 294.7M103.6 290.6Q110.5 293.2 117.4 295.8" fill="none" stroke="#0b0b0b" stroke-width="1.0" stroke-linecap="round"/>
<path d="M130.3 281.1q1.2 -0.1 2.5 0.0M157.7 273.4q1.3 2.4 3.8 1.3M112.6 272.5q2.4 -0.2 4.4 1.1M111.4 287.2q2.1 -0.1 3.5 1.5M157.2 276.7q2.6 -1.5 5.4 -0.1M106.1 272.7q1.8 0.2 3.2 1.3M121.1 277.4q1.9 0.3 3.9 0.4M136.3 279.6q2.8 -0.6 4.7 1.5M121.0 276.2q1.7 1.5 3.6 0.4M120.9 279.0q2.2 -0.2 4.4 0.2M111.4 278.9q0.7 3.2 4.0 2.9M110.3 277.1q1.8 2.6 4.5 1.1M131.7 286.1q1.0 0.7 2.2 0.6M150.9 277.9q2.6 1.0 4.6 2.9M143.7 278.4q0.4 1.4 1.9 1.5M146.5 281.5q1.6 -0.6 3.1 0.3M122.3 276.3q0.7 2.7 3.4 2.1M118.6 273.5q2.1 0.5 4.1 -0.2M106.1 280.1q1.6 2.6 4.2 1.1M110.0 272.3q2.5 0.7 4.2 2.5M116.8 279.6q2.2 0.5 3.5 2.3M154.5 280.9q2.7 -0.3 4.4 1.9M147.2 281.3q0.6 1.5 2.2 1.2M137.7 286.4q2.1 0.4 3.9 1.5M135.7 287.1q2.0 1.0 3.8 2.3M153.5 283.9q2.1 -0.4 4.0 0.8M158.8 281.1q1.1 0.3 2.1 0.8M154.7 277.6q2.3 2.4 5.2 0.8M134.6 279.0q1.3 1.4 2.9 2.4" fill="none" stroke="#fdfdfd" stroke-width="0.9" stroke-linecap="round"/>
<path d="M76.0 229.0C77.0 225.8 81.3 222.5 84.0 222.0C86.7 221.5 88.7 224.1 92.0 226.0C95.3 227.9 100.0 230.9 104.0 233.5C108.0 236.1 112.0 238.6 116.0 241.5C120.0 244.4 124.7 248.3 128.0 251.0C131.3 253.7 133.8 256.2 136.0 257.5C138.2 258.8 139.3 259.5 141.0 259.0C142.7 258.5 143.8 256.2 146.0 254.5C148.2 252.8 151.5 250.7 154.0 249.0C156.5 247.3 158.3 246.7 161.0 244.5C163.7 242.3 167.8 238.1 170.0 236.0C172.2 233.9 172.5 232.0 174.0 232.0C175.5 232.0 178.2 233.9 179.0 236.0C179.8 238.1 180.5 240.4 178.5 244.5C176.5 248.6 171.3 255.9 167.0 260.5C162.7 265.1 157.4 269.3 152.6 272.0C147.8 274.7 142.4 276.8 138.0 276.5C133.6 276.2 131.6 272.8 126.0 270.5C120.4 268.2 109.7 265.1 104.4 263.0C99.1 260.9 97.2 260.0 94.0 258.0C90.8 256.0 88.2 253.8 85.5 251.0C82.8 248.2 79.6 244.7 78.0 241.0C76.4 237.3 75.0 232.2 76.0 229.0z" fill="#fdfdfd"/>
<path d="M74.0 233.7C74.8 235.2 77.1 240.1 79.0 243.0C80.9 245.9 83.0 248.5 85.5 251.0C88.0 253.5 90.8 256.0 94.0 258.0C97.2 260.0 99.1 260.9 104.4 263.0C109.7 265.1 120.4 268.2 126.0 270.5C131.6 272.8 133.6 276.2 138.0 276.5C142.4 276.8 147.8 274.7 152.6 272.0C157.4 269.3 162.9 264.8 167.0 260.5C171.1 256.2 175.3 248.4 177.0 246.0" fill="none" stroke="#0b0b0b" stroke-width="1.5" stroke-linecap="round" stroke-linejoin="round"/>
<path d="M84.0 221.5C85.3 222.2 88.7 224.0 92.0 226.0C95.3 228.0 100.0 230.9 104.0 233.5C108.0 236.1 112.0 238.6 116.0 241.5C120.0 244.4 124.7 248.3 128.0 251.0C131.3 253.7 133.8 256.1 136.0 257.5C138.2 258.9 140.2 259.2 141.0 259.5" fill="none" stroke="#0b0b0b" stroke-width="1.5" stroke-linecap="round" stroke-linejoin="round"/>
<path d="M138.0 262.0C139.3 260.8 143.3 256.7 146.0 254.5C148.7 252.3 151.5 250.7 154.0 249.0C156.5 247.3 158.3 246.7 161.0 244.5C163.7 242.3 167.8 238.1 170.0 236.0C172.2 233.9 173.3 232.7 174.0 232.0" fill="none" stroke="#0b0b0b" stroke-width="1.3" stroke-linecap="round" stroke-linejoin="round"/>
<path d="M74.0 233.7l2.2 -6.3M75.2 236.0l2.0 -6.0M76.5 238.3l1.9 -5.9M77.8 240.7l1.5 -4.3M79.0 243.0l1.8 -3.9M81.2 245.7l2.3 -4.1M83.3 248.3l1.8 -5.4M85.5 251.0l2.1 -6.4M87.6 252.8l2.4 -7.1M89.8 254.5l2.1 -8.2M91.9 256.2l2.1 -3.9M94.0 258.0l2.3 -7.0M96.6 259.2l2.4 -6.7M99.2 260.5l2.0 -6.2M101.8 261.8l2.8 -6.1M104.4 263.0l2.5 -7.7M107.1 264.0l2.7 -6.3M109.7 265.0l3.0 -7.6M112.3 266.0l4.0 -7.1M115.0 267.0l2.1 -5.7M117.8 267.9l3.4 -7.9M120.5 268.8l3.0 -5.9M123.2 269.6l2.6 -6.5M126.0 270.5l2.2 -6.9M128.7 271.7l1.4 -5.8M131.3 272.8l3.5 -6.7" fill="none" stroke="#0b0b0b" stroke-width="1.15" stroke-linecap="round"/>
<path d="M174.0 232.0C174.8 232.5 178.0 233.5 179.0 235.0C180.0 236.5 180.3 239.2 180.0 241.0C179.7 242.8 177.5 245.2 177.0 246.0" fill="none" stroke="#0b0b0b" stroke-width="1.3" stroke-linecap="round" stroke-linejoin="round"/>
<path d="M170.0 244.0C170.7 244.5 172.7 246.7 174.0 247.0C175.3 247.3 177.3 246.2 178.0 246.0" fill="none" stroke="#0b0b0b" stroke-width="1.0" stroke-linecap="round" stroke-linejoin="round"/>
<path d="M172.0 250.0C172.5 250.8 174.7 253.5 175.0 255.0C175.3 256.5 174.2 258.3 174.0 259.0" fill="none" stroke="#0b0b0b" stroke-width="1.1" stroke-linecap="round" stroke-linejoin="round"/>
<path d="M176.0 262.0 L178.0 268.0" fill="none" stroke="#0b0b0b" stroke-width="1.1" stroke-linecap="round" stroke-linejoin="round"/>
<path d="M73.4 274.6Q73.4 275.3 73.2 276.0M73.7 278.8Q73.8 279.8 74.1 280.9M71.0 270.7Q71.5 277.3 71.9 284.1M68.8 269.3Q69.5 277.0 70.0 284.8M66.3 267.9Q67.1 276.9 68.1 286.0M64.2 266.7Q65.1 276.4 66.1 286.0M61.9 267.0Q62.8 276.8 63.8 286.5M59.3 265.8Q60.2 276.6 61.4 287.4M56.0 266.0Q56.9 276.1 57.8 286.1M54.5 266.0Q55.4 276.3 56.3 286.5M51.9 266.3Q52.8 276.2 53.7 286.1M50.2 266.3Q51.0 275.8 51.6 285.4M47.8 266.9Q48.6 275.8 49.3 284.6M46.2 267.5Q46.9 275.4 47.7 283.2" fill="none" stroke="#0b0b0b" stroke-width="0.95" stroke-linecap="round"/>
<path d="M50.6 266.6Q58.1 267.2 65.5 267.7M45.7 269.3Q59.1 270.5 72.6 271.8M45.7 272.1Q59.4 273.3 73.0 274.6M44.0 275.0Q59.5 276.4 75.1 277.9M45.5 278.2Q52.2 278.8 59.0 279.4M61.5 279.6Q67.6 280.2 73.9 280.4M45.8 281.6Q59.2 282.8 72.7 283.7M51.3 285.2Q58.3 285.8 65.3 286.7" fill="none" stroke="#0b0b0b" stroke-width="0.95" stroke-linecap="round"/>
<path d="M46.0 268.0C47.3 267.6 51.0 265.7 54.0 265.5C57.0 265.3 61.0 266.1 64.0 267.0C67.0 267.9 70.2 269.2 72.0 271.0C73.8 272.8 75.0 275.7 75.0 278.0C75.0 280.3 74.2 283.5 72.0 285.0C69.8 286.5 65.3 286.8 62.0 287.0C58.7 287.2 54.7 286.8 52.0 286.0C49.3 285.2 47.2 283.8 46.0 282.0C44.8 280.2 44.5 277.3 44.5 275.0C44.5 272.7 45.8 269.2 46.0 268.0" fill="none" stroke="#0b0b0b" stroke-width="1.3" stroke-linecap="round" stroke-linejoin="round"/>
<path d="M47.5 282.6q1.6 2.5 1.3 5.5M48.0 276.4q1.0 2.4 0.2 4.8M47.2 281.1q1.0 1.8 0.9 3.8M51.5 281.8q0.6 2.2 0.8 4.5M51.1 282.4q-0.9 3.6 -0.7 7.2M49.4 271.3q0.4 3.5 1.7 6.7M46.6 272.3q-1.3 3.1 -0.3 6.4M45.7 270.6q0.9 2.1 0.8 4.3M48.5 269.3q0.4 2.0 0.8 4.0" fill="none" stroke="#0b0b0b" stroke-width="1.2" stroke-linecap="round"/>
<path d="M86.6 291.5Q87.6 291.3 88.5 290.6M87.0 294.2Q90.1 293.5 93.2 292.3M87.1 297.3Q93.2 296.3 98.5 293.1M87.5 300.1Q95.9 298.6 103.4 294.6M87.9 302.6Q96.3 301.0 103.7 296.9M106.5 295.9Q107.5 295.6 108.5 295.0M87.9 304.6Q100.6 301.2 112.5 295.4M88.2 308.3Q111.1 303.3 131.7 292.2M89.3 311.4Q115.1 305.9 138.4 293.5M88.8 314.1Q116.9 308.5 141.9 294.4M89.9 316.6Q119.4 309.3 146.7 296.1M90.4 320.2Q94.0 319.3 97.3 317.5M98.5 317.3Q130.2 309.1 159.8 295.2M91.3 322.1Q126.5 312.6 159.5 297.3M91.2 325.6Q127.1 317.8 159.7 300.8M92.8 328.3Q128.1 321.4 159.7 304.3M92.9 330.1Q117.5 324.1 140.4 313.1M141.4 312.4Q150.3 310.1 158.6 306.4M92.8 333.1Q126.8 326.5 157.0 309.4M93.0 335.4Q106.5 332.6 118.5 325.9M119.8 325.7Q138.4 321.3 155.7 313.0M93.2 338.3Q111.7 333.6 128.8 325.1M130.1 324.9Q141.9 322.7 152.5 316.9M94.0 340.4Q123.3 332.7 150.6 319.5M97.4 342.0Q99.4 341.6 101.1 340.3M103.8 339.7Q126.2 334.5 146.9 324.2M100.1 343.9Q123.2 338.1 144.8 328.1M104.0 344.7Q105.6 344.4 107.0 343.7M121.2 338.5Q132.5 336.5 142.4 330.5M129.6 339.3Q131.5 338.9 133.3 338.0M134.7 337.5Q138.0 336.6 141.2 335.5M134.7 339.7Q137.3 339.2 139.7 338.2" fill="none" stroke="#0b0b0b" stroke-width="0.95" stroke-linecap="round"/>
<path d="M115.5 299.4Q118.5 308.6 121.2 318.0M112.7 298.2Q116.3 309.3 119.6 320.5M109.9 297.8Q114.2 310.8 118.4 323.8M107.0 295.9Q112.0 311.2 116.9 326.5M104.4 294.7Q110.1 312.4 115.8 330.0M101.9 294.0Q108.0 312.9 114.0 331.8M99.0 294.5Q102.3 304.5 105.8 314.3M106.0 315.9Q109.0 325.1 111.8 334.3M97.6 294.2Q104.2 314.7 110.6 335.3M94.2 292.2Q95.8 296.8 97.5 301.4M98.1 303.9Q103.4 320.5 108.5 337.2M92.5 292.4Q99.9 315.1 107.4 337.7M89.8 291.6Q97.7 315.8 105.8 340.0M87.9 291.0Q94.0 309.9 99.9 328.8M100.6 330.3Q102.4 335.8 104.2 341.3M87.7 296.1Q95.0 318.5 102.2 340.9M88.5 304.7Q94.3 322.7 100.0 340.8M88.9 308.8Q94.2 325.0 99.4 341.3M91.0 322.5Q93.9 331.4 96.7 340.2" fill="none" stroke="#0b0b0b" stroke-width="1.0" stroke-linecap="round"/>
<path d="M114.1 324.1q-1.3 2.8 -0.4 5.7M112.1 309.4q0.6 1.3 -0.2 2.6M92.6 309.5q0.2 2.3 2.0 3.7M93.9 326.6q0.6 1.6 1.1 3.1M98.0 331.0q-0.4 1.8 0.3 3.6M110.3 329.7q2.9 2.1 3.9 5.6M99.5 326.6q0.8 1.5 0.7 3.3M102.3 321.1q0.9 3.7 3.9 6.1M88.8 300.0q0.8 3.1 3.6 4.8M111.7 324.1q1.7 3.3 2.3 7.0M119.0 309.5q-0.6 2.3 0.2 4.5M93.4 324.6q1.2 3.5 2.9 6.9M110.0 327.7q1.7 1.7 1.8 4.1M108.9 307.8q1.2 3.1 4.0 5.0M115.8 309.2q1.2 1.0 1.6 2.6M87.8 291.4q0.8 2.5 1.8 5.0M103.1 315.0q1.3 1.1 1.6 2.8M96.8 318.8q1.7 1.2 1.8 3.3M102.3 314.1q0.8 1.6 -0.2 3.1M97.1 315.8q0.2 2.4 0.7 4.7M97.3 305.0q2.0 1.9 1.8 4.6M91.5 294.1q-0.5 1.5 0.5 2.7M107.8 301.1q1.6 2.4 1.7 5.3M115.1 304.4q1.7 1.2 2.5 3.1M119.3 315.4q1.8 2.6 1.9 5.8M99.4 317.0q1.7 1.6 1.2 3.9M100.6 296.9q-0.5 2.7 1.4 4.7M102.6 306.0q2.4 2.5 3.9 5.5M93.5 333.7q1.0 2.8 1.6 5.8M115.2 315.1q0.5 3.6 -0.2 7.2M105.9 312.9q0.5 3.5 0.2 7.0M99.9 307.2q0.1 2.9 1.1 5.7M105.2 325.2q0.1 1.3 0.8 2.4M112.5 332.6q-1.1 1.8 -0.1 3.6M108.7 332.9q1.4 1.2 1.9 2.9M105.7 336.6q-0.9 2.1 -0.1 4.2M88.6 292.5q-0.0 3.9 2.3 7.1M117.2 306.5q-0.6 1.3 0.1 2.6M101.0 324.7q-0.2 1.3 -0.1 2.6M99.6 300.2q-0.0 2.5 0.1 5.1M105.9 302.2q1.1 1.2 1.6 2.8M103.5 339.0q0.5 1.9 2.0 3.3M97.5 312.1q0.8 1.2 1.7 2.2M95.6 302.9q0.8 3.2 2.1 6.2M110.0 328.9q1.4 3.6 -0.4 7.1M91.2 304.1q1.3 1.0 1.8 2.6M104.6 319.0q2.3 2.7 1.5 6.1M103.1 301.3q0.7 2.5 -0.3 4.8M98.3 320.7q1.6 2.4 2.6 5.2M104.5 338.4q-0.1 1.4 0.0 2.7M119.1 310.9q2.6 1.6 3.7 4.4M109.7 307.8q-0.4 2.5 -0.4 5.1M110.4 319.8q0.1 1.9 -0.3 3.8M101.5 301.5q0.4 2.6 2.8 3.7M105.2 305.6q1.0 2.5 1.3 5.1M115.3 314.2q-0.5 3.6 0.7 7.1M92.7 326.9q2.3 3.6 0.5 7.4M111.0 324.9q0.2 2.6 0.7 5.2M103.5 323.1q-0.3 1.6 0.7 2.7M107.9 315.2q1.0 2.2 1.1 4.6M115.0 318.9q0.1 2.4 1.4 4.5M111.8 303.5q1.2 0.7 1.4 2.0M103.6 329.6q0.4 2.3 0.1 4.7M104.0 304.5q1.1 1.3 0.8 3.1M92.2 305.8q0.8 3.1 -0.4 6.1M107.3 331.6q1.8 3.5 1.4 7.4M109.7 302.8q0.4 2.5 2.2 4.3M101.0 295.4q2.7 2.5 3.0 6.3M108.2 313.7q-0.4 1.5 -0.2 3.1M109.6 333.0q2.3 2.3 3.5 5.3M93.0 332.4q0.2 3.7 1.8 7.0M121.2 317.6q-0.1 2.7 2.2 4.2M91.3 300.7q3.1 1.8 4.3 5.2M105.5 303.1q1.1 2.0 2.8 3.4M89.6 305.8q0.7 1.4 0.5 3.0M106.8 308.5q2.6 2.5 3.7 6.0M104.2 315.8q1.1 1.7 2.2 3.3M88.0 291.5q1.3 1.6 1.6 3.6M111.9 312.2q-0.0 2.9 1.3 5.4M119.6 319.6q2.3 2.5 1.6 5.8M116.2 318.0q0.2 1.3 0.3 2.7M120.2 312.3q-1.3 2.4 -0.0 4.9M114.0 313.7q-0.8 2.4 0.6 4.6M103.0 326.8q1.6 2.3 1.4 5.1M96.9 304.0q3.3 2.1 4.7 5.7M94.1 332.6q2.6 2.0 2.6 5.2M110.6 329.1q0.1 2.9 0.8 5.6M100.4 341.2q-1.3 3.8 0.4 7.4M115.8 301.2q-1.5 3.6 0.4 7.0M92.9 332.1q0.2 1.8 1.4 3.1M116.1 311.4q-1.0 2.5 0.7 4.5M109.0 308.7q0.8 1.7 2.0 3.1M112.2 302.3q0.4 3.1 1.4 6.1M105.4 312.0q0.1 1.3 0.7 2.5M109.7 299.2q-0.5 3.9 2.5 6.3M88.8 293.5q0.5 2.9 1.9 5.6M98.4 321.2q0.4 1.5 1.6 2.5M95.0 296.8q-1.7 2.8 -0.4 5.7M107.4 318.1q1.7 2.9 4.3 5.2M90.1 315.8q-1.4 3.1 -0.5 6.3M114.4 306.2q0.8 2.7 1.6 5.5M107.8 313.7q-0.2 2.2 0.5 4.4M104.6 316.3q1.1 3.2 -0.1 6.4M108.0 310.6q-0.0 2.3 0.9 4.3M118.5 309.6q-0.5 2.8 1.7 4.7M105.1 337.8q1.4 3.6 4.7 5.7M90.9 316.4q1.5 2.4 3.4 4.5M111.2 308.8q2.0 2.0 2.0 4.8M95.9 339.0q-0.2 3.0 1.6 5.5M101.0 318.5q0.4 2.3 2.5 3.2M89.8 310.0q0.0 3.8 3.0 6.0M102.7 323.4q-1.2 3.2 -0.0 6.5M94.2 305.2q2.0 2.3 3.2 5.2M97.6 296.8q1.3 1.1 1.1 2.8M99.9 294.3q3.2 1.9 3.5 5.5M100.0 337.5q0.9 3.5 2.4 6.7M113.4 303.6q1.9 2.8 3.7 5.6M97.0 319.9q1.0 1.7 1.0 3.6M114.6 313.8q1.2 2.3 0.9 5.0M93.6 311.8q0.6 3.1 0.8 6.2" fill="none" stroke="#0b0b0b" stroke-width="1.3" stroke-linecap="round"/>
<path d="M158.4 291.9Q159.2 293.2 160.1 294.6M155.7 292.6Q157.4 295.5 159.2 298.4M153.4 292.7Q153.9 293.7 154.4 294.7M155.5 296.4Q157.1 299.1 158.4 301.8M150.7 293.3Q152.0 295.6 153.1 298.0M154.8 300.4Q156.1 302.6 157.7 304.7M147.3 293.9Q151.7 301.5 155.7 309.2M144.4 294.0Q149.5 302.9 154.9 311.6M141.2 294.4Q147.1 304.5 153.2 314.5M138.6 295.4Q145.0 306.5 151.6 317.5M135.8 295.6Q142.8 307.8 150.1 319.8M131.8 295.1Q139.5 308.5 146.9 322.1M130.0 295.4Q137.5 308.4 145.1 321.4M131.1 302.6Q132.5 305.0 133.9 307.6M134.9 309.2Q137.9 314.4 141.3 319.3M132.8 310.9Q135.3 315.2 138.0 319.4M134.2 317.7Q134.5 318.3 135.0 318.7" fill="none" stroke="#0b0b0b" stroke-width="0.95" stroke-linecap="round"/>
<path d="M90.0 296.0C90.0 299.8 89.5 311.5 90.2 319.0C91.0 326.5 92.9 334.5 94.5 341.0C96.1 347.5 98.1 352.8 100.0 358.0C101.9 363.2 104.6 367.7 106.0 372.0C107.4 376.3 108.1 382.0 108.5 384.0" fill="none" stroke="#0b0b0b" stroke-width="1.5" stroke-linecap="round" stroke-linejoin="round"/>
<path d="M104.0 346.0C105.3 347.0 109.3 349.3 112.0 352.0C114.7 354.7 118.7 360.3 120.0 362.0" fill="none" stroke="#0b0b0b" stroke-width="1.1" stroke-linecap="round" stroke-linejoin="round"/>
<path d="M96.0 342.0C98.3 342.3 105.3 343.0 110.0 344.0C114.7 345.0 121.7 347.3 124.0 348.0" fill="none" stroke="#0b0b0b" stroke-width="1.0" stroke-linecap="round" stroke-linejoin="round"/>
<path d="M98.0 350.0C100.3 350.3 108.0 351.0 112.0 352.0C116.0 353.0 120.3 355.3 122.0 356.0" fill="none" stroke="#0b0b0b" stroke-width="0.9" stroke-linecap="round" stroke-linejoin="round"/>
<path d="M136.1 340.9Q137.0 343.0 137.6 345.2M145.2 363.4Q145.7 364.5 146.4 365.4M132.9 340.6Q138.2 353.8 143.4 367.2M129.6 340.7Q135.5 355.4 141.4 370.1M127.9 341.8Q133.8 356.5 139.8 371.2M125.3 343.3Q131.5 358.5 137.6 373.8M123.3 343.6Q129.7 359.4 135.8 375.3M120.9 346.2Q127.0 361.2 133.2 376.2M119.3 347.1Q125.4 362.3 131.2 377.5M116.6 348.2Q120.8 358.7 125.1 369.2M114.5 348.9Q116.6 354.0 118.9 359.0" fill="none" stroke="#0b0b0b" stroke-width="0.95" stroke-linecap="round"/>
<path d="M145.0 327.0C143.9 330.0 139.2 339.7 138.5 345.0C137.8 350.3 139.6 355.7 141.0 359.0C142.4 362.3 147.0 363.0 147.0 365.0C147.0 367.0 143.4 368.3 141.0 371.0C138.6 373.7 133.9 379.3 132.5 381.0" fill="none" stroke="#0b0b0b" stroke-width="1.4" stroke-linecap="round" stroke-linejoin="round"/>
<path d="M161.0 291.0C160.6 293.7 159.9 302.9 158.4 307.4C156.9 311.9 154.2 314.9 152.0 318.0C149.8 321.1 146.5 324.9 145.4 326.3" fill="none" stroke="#0b0b0b" stroke-width="1.3" stroke-linecap="round" stroke-linejoin="round"/>
<path d="M182.2 271.5Q182.9 275.8 183.5 280.2M187.0 299.2Q190.1 316.6 193.3 334.0M180.8 272.8Q186.9 307.1 193.2 341.3M178.4 272.6Q185.2 311.2 192.0 349.9M175.7 272.4Q182.7 312.0 189.6 351.6M173.6 272.8Q180.5 312.4 187.4 352.0M171.0 273.1Q178.0 312.4 184.6 351.8M168.9 274.6Q175.6 313.0 182.4 351.4M166.4 274.5Q173.1 312.1 179.5 349.7M164.4 275.7Q169.5 305.1 174.5 334.5M162.9 281.6Q166.2 300.4 169.5 319.3" fill="none" stroke="#0b0b0b" stroke-width="0.95" stroke-linecap="round"/>
<path d="M173.7 301.0q0.6 1.6 0.0 3.2M178.8 307.4q1.2 3.5 -0.1 6.9M174.2 318.4q1.4 4.3 1.2 8.7M167.0 302.8q2.3 3.9 2.6 8.4M176.1 312.7q0.2 4.3 2.0 8.2M170.7 310.8q-0.0 2.9 0.8 5.8M178.8 306.7q0.4 2.3 1.2 4.4M166.2 293.7q-0.2 2.4 0.5 4.8M173.8 289.6q-0.1 2.8 1.8 4.8M168.4 297.9q0.1 1.9 0.8 3.8M173.9 301.0q0.1 1.9 1.0 3.6M173.0 306.8q0.6 3.3 2.3 6.1M167.5 289.4q-1.6 3.9 -0.2 7.8M167.5 288.6q0.7 1.4 1.0 2.9M181.3 329.1q0.4 2.0 0.9 4.0M166.8 283.7q1.3 1.8 1.0 4.0M181.5 343.3q0.5 2.9 1.2 5.7M179.0 306.7q0.7 4.3 -0.1 8.5M173.0 323.6q0.2 1.8 0.8 3.5M171.1 316.9q0.3 3.9 1.9 7.4M177.2 330.4q0.4 2.4 1.2 4.8M172.0 310.7q1.1 3.1 0.5 6.4M167.8 288.2q-0.1 3.2 1.8 5.9M167.7 309.1q2.2 3.3 2.0 7.3M166.8 299.7q1.2 2.8 1.4 5.8M177.5 304.0q1.0 4.4 1.1 8.8M170.6 298.1q0.3 1.8 0.7 3.5M169.4 312.6q0.3 1.5 0.4 3.0M167.8 292.5q0.7 4.3 0.1 8.6M169.7 302.0q-0.4 2.7 1.1 4.9M173.9 319.7q0.4 2.5 0.4 5.0M177.6 330.6q0.8 2.5 0.0 5.1M177.2 326.7q0.6 3.8 2.2 7.2M178.3 328.5q1.1 1.9 0.6 4.0" fill="none" stroke="#0b0b0b" stroke-width="1.2" stroke-linecap="round"/>
<path d="M180.0 240.0C180.5 242.7 182.0 250.2 183.0 256.0C184.0 261.8 185.0 269.0 186.0 275.0C187.0 281.0 188.2 285.8 189.0 292.0C189.8 298.2 189.8 305.2 190.5 312.0C191.2 318.8 192.9 326.3 193.3 333.0C193.7 339.7 193.3 346.2 193.0 352.0C192.7 357.8 191.2 363.0 191.5 368.0C191.8 373.0 194.0 379.7 194.5 382.0" fill="none" stroke="#0b0b0b" stroke-width="1.3" stroke-linecap="round" stroke-linejoin="round"/>
<path d="M163.0 290.0C163.7 293.6 165.1 304.5 167.0 311.8C168.9 319.1 172.2 327.1 174.4 333.6C176.6 340.1 179.1 346.6 180.2 351.0C181.3 355.4 180.9 358.5 181.0 360.0" fill="none" stroke="#0b0b0b" stroke-width="1.2" stroke-linecap="round" stroke-linejoin="round"/>
<path d="M173.0 249.0C173.4 250.0 174.9 253.3 175.5 255.0C176.1 256.7 176.3 258.3 176.5 259.0" fill="none" stroke="#0b0b0b" stroke-width="1.1" stroke-linecap="round" stroke-linejoin="round"/>
<path d="M174.5 268.0 L176.5 274.0" fill="none" stroke="#0b0b0b" stroke-width="1.1" stroke-linecap="round" stroke-linejoin="round"/>
<path d="M60.0 290.0C58.0 291.7 52.0 296.3 48.0 300.0C44.0 303.7 39.3 307.7 36.0 312.0C32.7 316.3 29.8 321.3 28.0 326.0C26.2 330.7 25.7 336.3 25.0 340.0C24.3 343.7 25.2 345.0 24.0 348.0C22.8 351.0 19.2 353.7 18.0 358.0C16.8 362.3 16.0 370.7 17.0 374.0C18.0 377.3 22.8 377.3 24.0 378.0" fill="none" stroke="#0b0b0b" stroke-width="1.4" stroke-linecap="round" stroke-linejoin="round"/>
<path d="M64.0 296.0C61.7 297.7 53.7 302.0 50.0 306.0C46.3 310.0 43.7 315.3 42.0 320.0C40.3 324.7 39.0 330.0 40.0 334.0C41.0 338.0 44.7 341.0 48.0 344.0C51.3 347.0 58.0 350.7 60.0 352.0" fill="none" stroke="#0b0b0b" stroke-width="1.2" stroke-linecap="round" stroke-linejoin="round"/>
<path d="M44.0 330.0C45.3 332.0 49.3 339.0 52.0 342.0C54.7 345.0 58.7 347.0 60.0 348.0" fill="none" stroke="#0b0b0b" stroke-width="1.0" stroke-linecap="round" stroke-linejoin="round"/>
<path d="M53.0 309.0C53.3 310.0 54.2 313.7 55.0 315.0C55.8 316.3 57.5 316.7 58.0 317.0" fill="none" stroke="#0b0b0b" stroke-width="0.9" stroke-linecap="round" stroke-linejoin="round"/>
<path d="M56.4 353.7Q61.1 360.4 65.8 367.2M50.0 349.6Q56.8 359.2 63.7 368.7M46.3 347.9Q54.0 358.9 61.9 369.8M42.6 346.6Q50.8 358.3 58.8 370.0M39.5 345.4Q48.5 358.2 57.6 370.8M35.7 343.7Q45.5 357.7 55.5 371.5M33.2 344.2Q40.1 354.1 47.3 363.9M47.8 365.1Q50.5 368.9 53.0 373.0M30.5 345.0Q40.6 359.3 50.5 373.8M27.1 346.2Q37.3 360.7 47.5 375.3M24.8 347.4Q35.0 361.9 45.3 376.4M22.8 349.6Q32.6 363.5 42.2 377.4M21.6 351.7Q30.5 364.4 39.1 377.3M20.0 355.3Q27.9 366.5 35.9 377.7M19.1 357.4Q26.5 367.9 34.0 378.2M18.5 360.7Q24.6 369.4 30.5 378.3M18.1 364.3Q21.5 369.2 24.9 374.1M25.8 375.3Q26.6 376.6 27.6 377.8M17.6 369.2Q20.6 373.5 23.4 377.9M17.6 372.4Q18.8 374.1 20.1 375.6" fill="none" stroke="#0b0b0b" stroke-width="0.95" stroke-linecap="round"/>
<path d="M22.4 350.3Q23.4 349.7 24.2 348.9M26.3 348.0Q28.8 346.6 31.2 345.3M19.3 356.1Q28.7 350.6 38.1 344.9M18.3 360.9Q30.8 353.7 43.2 346.2M17.5 364.4Q32.3 355.8 47.2 347.4M17.5 368.7Q34.3 359.0 51.1 349.6M17.0 372.1Q35.1 361.7 53.1 351.2M18.6 374.5Q29.3 368.4 40.0 362.4M41.9 361.1Q48.7 357.2 55.6 353.4M22.1 376.8Q40.6 366.1 59.1 355.3M24.5 378.2Q42.4 367.9 60.4 357.7M34.0 377.5Q48.3 369.3 62.4 360.8M37.4 377.9Q51.1 370.1 64.5 361.9M49.8 374.5Q57.9 369.9 66.0 365.3" fill="none" stroke="#0b0b0b" stroke-width="0.95" stroke-linecap="round"/>
<path d="M27.7 353.7q0.7 3.0 2.3 5.6M32.2 356.0q1.4 3.2 3.6 6.0M36.3 359.0q1.7 3.3 4.3 5.9M40.3 351.1q3.1 1.8 5.7 4.1M36.5 350.3q0.4 2.2 1.7 4.0M42.8 362.2q1.3 1.8 3.1 3.1M51.1 358.3q3.0 2.5 2.3 6.4M43.2 350.9q0.1 3.1 2.2 5.5M31.2 353.0q0.2 1.7 1.1 3.1M41.1 355.8q2.8 1.7 3.7 4.9M51.8 359.4q2.1 1.6 2.6 4.2M43.9 360.0q1.5 1.1 2.9 2.5M33.7 359.1q1.5 1.1 2.7 2.6M49.2 358.4q1.7 0.3 2.4 1.9M44.1 357.5q0.7 1.7 2.4 2.4M48.4 357.5q-0.1 2.3 1.7 3.7" fill="none" stroke="#0b0b0b" stroke-width="1.2" stroke-linecap="round"/>
<path d="M45.8 351.8q1.9 3.0 5.3 4.0M49.9 349.3q1.7 0.7 3.4 1.6M50.5 349.2q2.0 1.1 4.3 1.3M31.5 348.5q1.8 0.3 3.6 1.0M36.3 346.8q1.9 0.3 3.2 1.7M50.1 350.1q1.8 1.5 4.1 2.3M58.1 355.2q4.4 0.3 8.0 3.0M53.3 355.4q2.1 2.2 5.0 2.8M37.6 345.6q1.1 1.1 2.8 1.2M39.9 344.1q2.8 0.3 4.6 2.4M29.1 341.2q3.3 2.7 7.2 4.5M29.8 348.5q3.2 1.4 6.5 2.9M33.3 347.4q3.3 2.1 6.2 4.8M32.5 346.4q1.4 0.8 2.9 0.7M56.5 355.7q2.0 1.6 4.5 1.7M26.0 348.2q2.0 1.7 4.4 2.7M43.8 345.1q4.3 1.2 7.0 4.7M49.3 352.2q3.6 1.2 7.4 2.0M28.3 348.1q2.5 0.7 4.8 1.8M53.1 348.7q3.0 0.7 4.9 3.1M37.9 349.1q1.9 0.6 3.7 1.6M44.9 344.3q2.8 1.6 6.0 2.2" fill="none" stroke="#0b0b0b" stroke-width="1.3" stroke-linecap="round"/>
<path d="M37.0 311.0C35.8 313.3 31.4 320.3 29.6 325.0C27.8 329.7 27.1 335.3 26.4 339.0C25.7 342.7 25.7 345.7 25.6 347.0" fill="none" stroke="#0b0b0b" stroke-width="1.0" stroke-linecap="round" stroke-linejoin="round"/>
<path d="M30.0 320.0C30.7 321.7 31.8 327.0 34.0 330.0C36.2 333.0 41.5 336.7 43.0 338.0" fill="none" stroke="#0b0b0b" stroke-width="0.9" stroke-linecap="round" stroke-linejoin="round"/>
<path d="M62.4 362.0l6.6 -3.3M66.4 366.4l6.1 -1.5M70.0 371.0l6.1 -1.5M73.6 375.6l8.4 -1.6M77.0 380.4l7.6 -2.7M80.4 384.0l6.3 -2.9M68.0 362.4l5.7 -2.3M72.0 368.0l8.0 -1.9" fill="none" stroke="#0b0b0b" stroke-width="1.05" stroke-linecap="round"/>
<path d="M60.0 362.4C61.7 364.7 66.8 371.9 70.0 376.0C73.2 380.1 77.5 385.2 79.0 387.0" fill="none" stroke="#0b0b0b" stroke-width="1.0" stroke-linecap="round" stroke-linejoin="round"/>
</g>
<clipPath id="scr"><rect x="843.3" y="309.7" width="70.7" height="54.2" rx="6"/></clipPath>
<g clip-path="url(#scr)" filter="url(#soft2)">
<path d="M875.5 312.3q1.6 1.5 3.5 2.6M865.3 309.2q-0.1 2.7 2.5 2.1M871.3 313.8q2.1 2.3 5.2 2.6M874.6 315.3q-2.3 1.1 -0.8 3.1M856.4 338.8q2.7 1.7 1.1 4.5M856.7 320.1q2.3 -1.2 2.7 1.4M856.8 327.6q0.8 1.0 0.5 2.2M857.1 334.3q1.7 1.4 3.2 3.0M869.4 310.6q2.4 3.5 6.4 1.9M865.5 309.1q0.1 2.2 2.1 1.3M853.5 332.4q1.0 3.5 -1.2 6.3M858.5 325.2q1.7 3.3 5.2 2.3M850.3 319.4q0.9 2.7 -0.7 4.9M857.2 318.7q2.0 -1.0 2.8 1.1M852.5 310.3q2.4 2.5 3.0 6.0M854.8 327.3q2.3 2.1 3.3 4.9M873.6 312.9q-1.7 2.5 -1.1 5.4M872.0 312.1q0.8 3.0 3.7 2.0M856.6 322.9q-5.3 3.2 -0.3 6.7M861.6 324.0q3.0 1.4 2.9 4.7M860.0 313.4q-3.3 1.2 -1.0 3.8M858.0 311.6q-1.9 1.9 0.3 3.5M858.7 333.3q-0.9 3.1 1.2 5.6M869.4 317.6q-1.1 2.3 0.4 4.4M856.6 338.3q4.7 0.8 2.0 4.8M864.5 316.6q-0.8 3.7 2.9 4.4M858.3 328.9q1.3 2.8 -0.0 5.6M863.9 314.0q-0.3 3.0 -1.1 5.9M870.2 314.1q-0.3 3.2 2.2 5.3M860.5 328.3q-1.1 3.3 1.7 5.5M861.2 329.1q-0.3 1.7 0.7 3.2M854.5 310.5q2.0 -0.1 2.1 2.0M853.5 309.9q0.8 2.1 2.8 3.3M865.8 316.2q3.3 -0.2 6.1 1.6M856.1 321.6q0.5 1.4 -0.0 2.8M848.5 327.9q1.2 0.9 1.2 2.4M858.9 313.2q-2.3 3.7 2.0 4.5M858.4 336.7q0.9 0.7 2.1 0.9M866.6 313.2q0.7 2.6 -0.5 5.1M860.9 315.9q0.3 1.9 -0.8 3.5M866.0 316.9q2.5 2.4 3.4 5.8" fill="none" stroke="#0b0b0b" stroke-width="1.9" stroke-linecap="round"/>
<path d="M853.2 311.0C854.8 309.8 859.4 308.8 861.2 309.5C863.0 310.2 864.5 313.1 864.1 315.3C863.7 317.5 860.7 321.1 859.0 322.6C857.3 324.0 855.2 325.0 853.9 324.0C852.7 323.1 851.9 318.9 851.8 316.8C851.6 314.6 851.6 312.2 853.2 311.0z" fill="#0b0b0b"/>
<path d="M864.1 310.2C865.3 309.3 870.5 309.0 872.1 309.5C873.7 310.0 874.0 311.9 873.5 313.1C873.1 314.4 870.6 316.4 869.2 316.8C867.7 317.1 865.7 316.4 864.8 315.3C864.0 314.2 862.9 311.2 864.1 310.2z" fill="#0b0b0b"/>
<path d="M848.4 338.4q1.7 1.6 4.1 1.6M847.8 338.6q-0.1 5.3 -4.9 3.0M848.9 337.9q-0.8 4.1 -5.0 4.1M845.6 333.8q1.1 3.4 4.1 5.3M848.2 350.8q0.5 3.9 -3.4 3.6M851.7 338.9q2.5 1.3 2.3 4.0M848.9 344.6q-1.8 1.0 -2.7 2.8M842.8 337.2q-2.8 -2.0 -4.2 1.1M851.9 343.3q-2.3 1.3 -2.9 3.8M847.1 342.0q3.6 0.1 5.0 3.5M852.7 352.6q-0.2 2.8 2.6 3.3M848.2 347.5q3.3 0.7 2.3 3.9M849.6 356.7q0.1 1.8 1.9 1.7M852.1 351.5q-2.1 -0.3 -1.5 1.8M842.9 357.7q-2.8 0.4 -1.4 2.9M845.9 360.4q-0.1 1.5 -1.0 2.7M844.3 350.1q1.3 -0.0 2.3 0.8" fill="none" stroke="#0b0b0b" stroke-width="1.7" stroke-linecap="round"/>
<path d="M848.9 329.8C849.4 331.3 850.1 336.1 851.8 338.5C853.5 341.0 858.1 342.4 859.0 344.3C860.0 346.3 857.8 349.2 857.6 350.2" fill="none" stroke="#0b0b0b" stroke-width="1.6" stroke-linecap="round" stroke-linejoin="round"/>
<path d="M875.1 358.4q3.5 0.7 6.3 2.8M860.9 355.7q-2.2 1.5 -4.9 0.9M846.8 357.5q-0.7 1.5 -1.3 3.0M893.3 354.8q1.6 2.4 3.8 4.1M857.6 358.5q3.2 -0.9 4.6 2.1M864.0 358.2q-1.7 0.8 -2.1 2.7M848.4 356.9q1.2 1.0 2.7 1.1M856.8 360.9q-0.7 3.3 2.6 4.2M845.4 358.0q0.3 2.4 2.5 1.3M850.1 362.7q-0.7 4.4 -4.9 3.1M856.6 350.6q2.2 2.0 2.5 5.0M851.2 360.0q-2.0 2.2 -4.7 3.3M890.1 354.1q-2.7 2.2 -1.2 5.3M845.9 361.1q0.9 4.5 -3.6 3.4M869.4 361.1q0.9 2.7 1.2 5.5M852.4 351.4q-1.2 3.1 -4.1 1.6M857.6 349.6q2.1 0.4 2.1 2.6M894.1 351.3q-3.7 1.9 -4.0 6.0M869.5 362.2q0.1 1.9 -1.6 2.7M880.5 358.1q2.8 -1.1 2.7 2.0M865.6 362.7q1.4 1.7 2.4 3.6M859.2 358.2q3.9 -0.7 5.3 3.0M880.4 362.1q-3.6 3.7 1.2 5.6M886.2 352.1q-2.3 1.0 -0.4 2.7M892.7 353.6q4.0 -2.3 7.1 1.2M873.3 361.7q-1.4 3.5 -4.9 2.4M844.7 354.5q0.4 2.6 -1.1 4.8M877.8 358.0q2.5 2.6 4.0 5.8M848.6 358.9q5.1 0.6 3.7 5.5M848.4 352.4q4.6 -0.8 3.9 3.8M884.7 354.8q-4.2 1.7 -3.2 6.2M888.2 356.7q-4.2 1.2 -4.8 5.5M858.4 359.7q3.2 -1.9 4.0 1.8M847.2 358.8q3.0 -3.6 5.3 0.5M850.9 351.1q-3.5 -0.7 -6.7 1.1M856.4 352.4q4.0 0.1 2.2 3.7M875.6 359.9q2.8 1.2 5.9 1.8M853.1 357.7q-2.7 -1.7 -4.6 0.9M893.6 353.0q-1.5 2.7 0.9 4.6M894.7 354.4q3.4 4.9 -2.2 7.0M888.1 352.3q-1.2 2.2 -2.8 0.2M891.8 351.8q2.5 0.3 2.3 2.7M897.3 360.2q-0.2 3.5 -2.4 6.3M851.6 360.0q2.8 -2.3 4.9 0.6M849.2 357.9q0.9 4.7 5.7 4.1" fill="none" stroke="#0b0b0b" stroke-width="1.8" stroke-linecap="round"/>
<path d="M880.8 353.1C881.8 350.3 886.6 346.8 888.8 345.8C891.0 344.8 892.8 344.6 893.9 347.2C894.9 349.9 897.1 359.2 895.3 361.8C893.5 364.3 885.4 363.9 883.0 362.5C880.6 361.0 879.8 355.8 880.8 353.1z" fill="#0b0b0b"/>
<path d="M844.5 357.4C846.4 356.0 853.0 354.3 856.1 354.5C859.3 354.7 862.9 357.4 863.4 358.9C863.9 360.3 862.2 362.5 859.0 363.2C855.9 363.9 846.9 364.2 844.5 363.2C842.1 362.2 842.6 358.9 844.5 357.4z" fill="#0b0b0b"/>
<path d="M899.7 332.1q-4.3 1.4 -2.2 5.3M903.9 328.8q1.5 1.0 1.0 2.7M893.0 319.4q-1.4 2.0 0.3 3.7M910.8 340.3q-1.6 2.0 -2.6 4.3M910.4 321.2q-1.4 1.8 -2.5 3.9M898.8 311.4q0.2 1.3 1.1 2.2M909.5 333.2q-1.3 1.9 -3.3 0.7M908.5 311.2q-5.5 -0.2 -2.7 4.5M912.6 332.2q-2.8 1.2 -3.8 4.1M897.1 326.4q-1.7 6.1 4.3 4.0M904.6 322.2q1.6 0.5 0.7 2.0M907.1 339.5q0.2 3.2 -2.1 5.5M904.9 333.2q-1.0 2.6 -3.4 1.3M899.3 317.9q-1.2 3.7 -4.5 1.5M906.6 334.9q1.4 0.7 3.0 0.6M911.1 338.8q1.4 2.3 1.3 5.0M904.3 339.6q0.5 1.8 2.1 2.6M914.2 315.2q0.9 0.7 2.1 0.8M906.0 315.1q-1.2 1.1 -0.8 2.8M907.9 333.6q-1.5 1.3 0.1 2.4M913.9 319.6q-5.6 0.4 -2.5 5.1M897.6 332.6q4.7 2.5 0.4 5.6M896.8 314.1q0.8 1.1 2.2 1.1M909.0 336.6q-5.3 -0.7 -3.4 4.3M913.9 330.1q4.5 -3.7 5.8 2.0M893.9 315.8q-1.1 2.0 0.5 3.6M909.1 311.6q0.7 2.0 -0.5 3.8M900.8 332.1q-2.5 -3.5 -4.2 0.5M908.6 318.9q0.8 1.2 0.2 2.6M909.0 340.1q1.1 1.5 2.3 2.9M908.1 335.7q2.5 0.9 2.7 3.6M911.5 326.5q1.5 0.8 0.6 2.2M907.4 311.3q1.6 0.3 3.1 1.0M914.6 327.3q-1.2 3.4 -3.6 0.8M900.4 336.4q-0.4 1.1 -1.6 1.4M892.8 317.3q0.6 1.9 1.4 3.8M893.6 316.2q0.9 3.0 1.1 6.1M894.3 318.3q-1.8 2.5 -3.4 5.1M909.9 323.6q-2.6 -0.6 -4.4 1.4M906.7 310.0q-0.6 1.0 -1.6 1.5M912.1 337.0q-4.4 5.0 2.2 5.5" fill="none" stroke="#0b0b0b" stroke-width="1.7" stroke-linecap="round"/>
<path d="M909.8 360.5q0.1 1.6 -0.2 3.2M914.3 363.1q1.4 1.4 1.2 3.4M903.7 345.6q3.4 0.9 3.8 4.4M903.5 340.4q-2.1 1.8 -0.9 4.3M898.0 339.0q-1.6 3.0 -1.9 6.4M896.7 344.4q2.3 4.3 -1.8 6.9M897.7 349.1q0.4 1.9 -0.2 3.8M910.2 342.3q-1.8 2.1 -1.5 4.9M895.8 341.3q1.8 2.3 2.3 5.2M903.9 352.9q1.6 3.4 4.0 6.2M899.4 352.0q2.1 2.3 4.0 4.7M908.7 338.7q1.1 3.0 2.2 6.0M906.7 358.1q1.6 1.0 0.7 2.7M902.0 347.1q0.7 1.1 1.3 2.3M907.6 361.4q-0.4 2.3 1.0 4.2M913.6 362.0q4.0 2.1 3.6 6.5M913.5 340.5q-0.2 2.4 -0.1 4.7M902.0 361.4q-0.9 2.2 0.8 3.9M896.8 347.2q1.9 2.2 0.9 4.9M903.4 340.0q1.6 0.9 1.3 2.6M914.2 345.0q-1.1 1.9 -0.3 3.9M899.4 359.0q0.4 2.9 2.2 5.2M899.0 345.0q-1.4 4.1 2.3 6.5M897.6 341.9q-0.2 1.4 -0.1 2.8" fill="none" stroke="#0b0b0b" stroke-width="1.6" stroke-linecap="round"/>
<path d="M898.2 327.7C899.4 326.0 904.7 323.8 906.9 324.0C909.1 324.3 911.5 327.3 911.3 329.1C911.0 330.9 907.4 334.1 905.5 334.9C903.5 335.8 900.9 335.4 899.7 334.2C898.5 333.0 897.0 329.3 898.2 327.7z" fill="#fdfdfd"/>
<path d="M898.2 327.7C899.7 327.1 904.7 323.8 906.9 324.0C909.1 324.3 911.5 327.3 911.3 329.1C911.0 330.9 907.4 334.1 905.5 334.9C903.5 335.8 900.9 335.4 899.7 334.2C898.5 333.0 898.5 328.7 898.2 327.7" fill="none" stroke="#0b0b0b" stroke-width="1.4" stroke-linecap="round" stroke-linejoin="round"/>
<path d="M900.4 313.9C901.8 312.5 907.2 311.0 909.1 311.7C911.0 312.4 912.6 316.5 912.0 318.2C911.4 319.9 907.4 321.6 905.5 321.9C903.5 322.1 901.2 321.0 900.4 319.7C899.5 318.3 898.9 315.2 900.4 313.9z" fill="#fdfdfd"/>
<path d="M900.4 313.9C901.8 313.5 907.2 311.0 909.1 311.7C911.0 312.4 912.6 316.5 912.0 318.2C911.4 319.9 906.6 321.2 905.5 321.9" fill="none" stroke="#0b0b0b" stroke-width="1.2" stroke-linecap="round" stroke-linejoin="round"/>
<path d="M864.8 324.0C866.4 320.5 869.2 318.7 872.1 317.5C875.0 316.3 879.3 315.9 882.2 316.8C885.2 317.6 887.9 319.9 889.5 322.6C891.1 325.2 891.8 329.3 891.7 332.7C891.6 336.1 890.4 339.9 888.8 342.9C887.2 345.9 884.8 349.2 882.2 350.9C879.7 352.6 876.2 353.4 873.5 353.1C870.9 352.7 868.1 351.1 866.3 348.7C864.5 346.3 862.9 342.7 862.7 338.5C862.4 334.4 863.3 327.5 864.8 324.0z" fill="#fdfdfd"/>
<path d="M864.3 326.2C864.0 328.3 862.3 334.8 862.7 338.5C863.0 342.3 864.5 346.2 866.3 348.7C868.1 351.2 870.8 353.0 873.5 353.3C876.3 353.7 880.0 352.6 882.5 350.9C885.1 349.1 887.7 344.2 888.8 342.9" fill="none" stroke="#0b0b0b" stroke-width="1.7" stroke-linecap="round" stroke-linejoin="round"/>
<path d="M877.9 313.6C879.3 314.1 884.4 315.0 886.6 316.8C888.8 318.5 890.0 321.1 891.0 324.0C891.9 326.9 892.6 331.0 892.4 334.2C892.2 337.3 890.2 341.4 889.8 342.9" fill="none" stroke="#0b0b0b" stroke-width="1.9" stroke-linecap="round" stroke-linejoin="round"/>
<path d="M872.1 318.2C873.1 318.0 876.0 316.6 877.9 316.8C879.8 316.9 882.7 318.6 883.7 318.9" fill="none" stroke="#0b0b0b" stroke-width="1.3" stroke-linecap="round" stroke-linejoin="round"/>
<path d="M864.5 332.4C865.2 332.2 867.0 330.7 868.5 330.7C869.9 330.7 872.5 332.2 873.3 332.4" fill="none" stroke="#0b0b0b" stroke-width="1.6" stroke-linecap="round" stroke-linejoin="round"/>
<path d="M866.6 334.2C866.7 333.4 868.9 332.6 869.9 332.7C870.9 332.9 872.5 334.1 872.4 334.9C872.3 335.7 870.2 337.5 869.2 337.4C868.2 337.3 866.5 335.0 866.6 334.2z" fill="#0b0b0b"/>
<path d="M877.6 327.2C878.4 326.9 880.6 325.2 882.2 325.2C883.9 325.2 886.5 326.9 887.3 327.2" fill="none" stroke="#0b0b0b" stroke-width="1.6" stroke-linecap="round" stroke-linejoin="round"/>
<path d="M879.6 329.8C880.2 329.7 881.9 328.8 883.0 329.0C884.1 329.1 885.8 330.4 886.3 330.7" fill="none" stroke="#0b0b0b" stroke-width="1.8" stroke-linecap="round" stroke-linejoin="round"/>
<path d="M875.0 334.2C875.3 335.2 877.3 338.9 877.0 340.3C876.8 341.7 873.2 342.2 873.5 342.6C873.9 343.0 878.1 342.8 879.1 342.9" fill="none" stroke="#0b0b0b" stroke-width="1.5" stroke-linecap="round" stroke-linejoin="round"/>
<path d="M872.4 347.5C873.2 347.8 875.6 349.2 877.2 349.0C878.8 348.8 881.2 346.9 882.0 346.5" fill="none" stroke="#0b0b0b" stroke-width="1.8" stroke-linecap="round" stroke-linejoin="round"/>
<path d="M875.3 350.7 L879.1 351.0" fill="none" stroke="#0b0b0b" stroke-width="1.1" stroke-linecap="round" stroke-linejoin="round"/>
<path d="M892.1 317.1 L901.1 309.5" fill="none" stroke="#0b0b0b" stroke-width="1.4" stroke-linecap="round" stroke-linejoin="round"/>
<path d="M882.2 350.9C882.7 352.0 884.9 355.4 885.2 357.4C885.4 359.5 883.9 362.2 883.7 363.2" fill="none" stroke="#0b0b0b" stroke-width="1.5" stroke-linecap="round" stroke-linejoin="round"/>
</g>
</g>
</svg>
<h1 class="title">Recording Connections</h1>
</body></html>
